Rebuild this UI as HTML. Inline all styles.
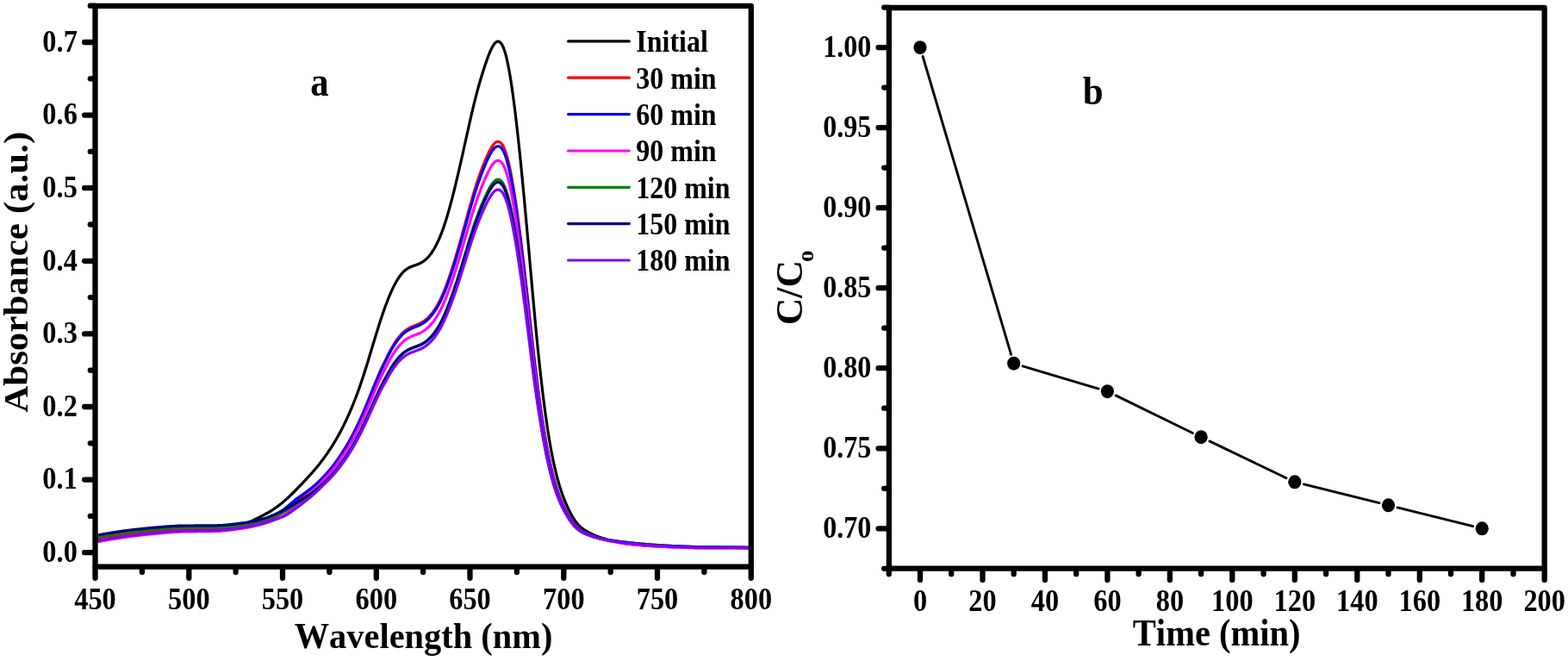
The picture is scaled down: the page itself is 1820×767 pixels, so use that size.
<!DOCTYPE html>
<html><head><meta charset="utf-8"><title>UV-vis absorbance and C/Co</title>
<style>
html,body{margin:0;padding:0;background:#fff;}
body{width:1820px;height:767px;overflow:hidden;}
svg{display:block;}
text{font-family:"Liberation Serif","Times New Roman",serif;font-weight:bold;fill:#000;font-kerning:none;}
.tk{font-size:36px;}
.ax{stroke:#000;stroke-width:6.3;stroke-linecap:round;fill:none;}
.cv{fill:none;stroke-width:3.2;stroke-linejoin:round;stroke-linecap:round;}
</style></head><body>
<svg width="1820" height="767" viewBox="0 0 1820 767">
<rect width="1820" height="767" fill="#fff"/>
<g id="figure">

<g id="curves-a">
<path class="cv" stroke="#000000" d="M110.5,625.3 L111.5,625.2 L112.5,625.1 L113.5,625.0 L114.5,624.9 L115.5,624.8 L116.5,624.6 L117.5,624.5 L118.5,624.4 L119.5,624.3 L120.5,624.1 L121.5,624.0 L122.5,623.9 L123.5,623.8 L124.5,623.6 L125.5,623.5 L126.5,623.3 L127.5,623.2 L128.5,623.1 L129.5,622.9 L130.5,622.8 L131.5,622.6 L132.5,622.5 L133.5,622.3 L134.5,622.2 L135.5,622.0 L136.5,621.8 L137.5,621.7 L138.5,621.5 L139.5,621.4 L140.5,621.2 L141.5,621.0 L142.5,620.9 L143.5,620.7 L144.5,620.6 L145.5,620.4 L146.5,620.2 L147.5,620.1 L148.5,619.9 L149.5,619.7 L150.5,619.6 L151.5,619.4 L152.5,619.3 L153.5,619.1 L154.5,618.9 L155.5,618.8 L156.5,618.6 L157.5,618.4 L158.5,618.3 L159.5,618.1 L160.5,618.0 L161.5,617.8 L162.5,617.6 L163.5,617.5 L164.5,617.3 L165.5,617.2 L166.5,617.0 L167.5,616.9 L168.5,616.7 L169.5,616.6 L170.5,616.4 L171.5,616.3 L172.5,616.1 L173.5,616.0 L174.5,615.8 L175.5,615.7 L176.5,615.6 L177.5,615.4 L178.5,615.3 L179.5,615.2 L180.5,615.0 L181.5,614.9 L182.5,614.8 L183.5,614.7 L184.5,614.6 L185.5,614.4 L186.5,614.3 L187.5,614.2 L188.5,614.1 L189.5,614.0 L190.5,613.9 L191.5,613.8 L192.5,613.7 L193.5,613.6 L194.5,613.5 L195.5,613.5 L196.5,613.4 L197.5,613.3 L198.5,613.2 L199.5,613.2 L200.5,613.1 L201.5,613.0 L202.5,613.0 L203.5,612.9 L204.5,612.9 L205.5,612.8 L206.5,612.8 L207.5,612.8 L208.5,612.7 L209.5,612.7 L210.5,612.7 L211.5,612.7 L212.5,612.6 L213.5,612.6 L214.5,612.6 L215.5,612.6 L216.5,612.6 L217.5,612.6 L218.5,612.6 L219.5,612.6 L220.5,612.6 L221.5,612.6 L222.5,612.7 L223.5,612.7 L224.5,612.7 L225.5,612.7 L226.5,612.7 L227.5,612.7 L228.5,612.7 L229.5,612.8 L230.5,612.8 L231.5,612.8 L232.5,612.8 L233.5,612.8 L234.5,612.8 L235.5,612.9 L236.5,612.9 L237.5,612.9 L238.5,612.9 L239.5,612.9 L240.5,612.9 L241.5,612.9 L242.5,613.0 L243.5,613.0 L244.5,613.0 L245.5,613.0 L246.5,613.0 L247.5,613.0 L248.5,613.0 L249.5,612.9 L250.5,612.9 L251.5,612.9 L252.5,612.9 L253.5,612.9 L254.5,612.9 L255.5,612.8 L256.5,612.8 L257.5,612.7 L258.5,612.7 L259.5,612.6 L260.5,612.6 L261.5,612.5 L262.5,612.4 L263.5,612.4 L264.5,612.3 L265.5,612.2 L266.5,612.0 L267.5,611.9 L268.5,611.8 L269.5,611.6 L270.5,611.5 L271.5,611.3 L272.5,611.1 L273.5,610.9 L274.5,610.7 L275.5,610.5 L276.5,610.2 L277.5,610.0 L278.5,609.7 L279.5,609.4 L280.5,609.1 L281.5,608.8 L282.5,608.4 L283.5,608.1 L284.5,607.7 L285.5,607.3 L286.5,607.0 L287.5,606.6 L288.5,606.1 L289.5,605.7 L290.5,605.3 L291.5,604.8 L292.5,604.4 L293.5,603.9 L294.5,603.5 L295.5,603.0 L296.5,602.5 L297.5,602.0 L298.5,601.5 L299.5,601.0 L300.5,600.5 L301.5,600.0 L302.5,599.5 L303.5,599.0 L304.5,598.5 L305.5,597.9 L306.5,597.4 L307.5,596.8 L308.5,596.3 L309.5,595.7 L310.5,595.2 L311.5,594.6 L312.5,594.0 L313.5,593.4 L314.5,592.8 L315.5,592.2 L316.5,591.5 L317.5,590.9 L318.5,590.2 L319.5,589.5 L320.5,588.8 L321.5,588.1 L322.5,587.4 L323.5,586.6 L324.5,585.9 L325.5,585.1 L326.5,584.3 L327.5,583.5 L328.5,582.6 L329.5,581.8 L330.5,580.9 L331.5,580.0 L332.5,579.1 L333.5,578.2 L334.5,577.3 L335.5,576.3 L336.5,575.4 L337.5,574.4 L338.5,573.5 L339.5,572.5 L340.5,571.5 L341.5,570.5 L342.5,569.5 L343.5,568.5 L344.5,567.5 L345.5,566.4 L346.5,565.4 L347.5,564.4 L348.5,563.3 L349.5,562.3 L350.5,561.3 L351.5,560.2 L352.5,559.2 L353.5,558.1 L354.5,557.0 L355.5,556.0 L356.5,554.9 L357.5,553.8 L358.5,552.7 L359.5,551.6 L360.5,550.5 L361.5,549.4 L362.5,548.3 L363.5,547.1 L364.5,545.9 L365.5,544.8 L366.5,543.6 L367.5,542.4 L368.5,541.2 L369.5,539.9 L370.5,538.7 L371.5,537.4 L372.5,536.1 L373.5,534.8 L374.5,533.5 L375.5,532.2 L376.5,530.8 L377.5,529.4 L378.5,528.0 L379.5,526.6 L380.5,525.2 L381.5,523.7 L382.5,522.2 L383.5,520.7 L384.5,519.1 L385.5,517.6 L386.5,515.9 L387.5,514.3 L388.5,512.7 L389.5,511.0 L390.5,509.3 L391.5,507.5 L392.5,505.7 L393.5,503.9 L394.5,502.1 L395.5,500.2 L396.5,498.3 L397.5,496.4 L398.5,494.4 L399.5,492.4 L400.5,490.3 L401.5,488.2 L402.5,486.1 L403.5,483.9 L404.5,481.7 L405.5,479.5 L406.5,477.2 L407.5,474.8 L408.5,472.4 L409.5,470.0 L410.5,467.5 L411.5,465.0 L412.5,462.5 L413.5,459.8 L414.5,457.2 L415.5,454.4 L416.5,451.7 L417.5,448.9 L418.5,446.0 L419.5,443.0 L420.5,440.1 L421.5,437.0 L422.5,433.9 L423.5,430.8 L424.5,427.6 L425.5,424.4 L426.5,421.1 L427.5,417.9 L428.5,414.6 L429.5,411.3 L430.5,408.0 L431.5,404.6 L432.5,401.3 L433.5,398.0 L434.5,394.7 L435.5,391.4 L436.5,388.1 L437.5,384.9 L438.5,381.7 L439.5,378.5 L440.5,375.3 L441.5,372.2 L442.5,369.2 L443.5,366.2 L444.5,363.2 L445.5,360.4 L446.5,357.6 L447.5,354.8 L448.5,352.2 L449.5,349.6 L450.5,347.0 L451.5,344.6 L452.5,342.2 L453.5,339.9 L454.5,337.6 L455.5,335.5 L456.5,333.4 L457.5,331.4 L458.5,329.5 L459.5,327.7 L460.5,325.9 L461.5,324.3 L462.5,322.7 L463.5,321.2 L464.5,319.8 L465.5,318.5 L466.5,317.3 L467.5,316.2 L468.5,315.2 L469.5,314.2 L470.5,313.4 L471.5,312.7 L472.5,312.0 L473.5,311.3 L474.5,310.8 L475.5,310.3 L476.5,309.8 L477.5,309.4 L478.5,309.0 L479.5,308.6 L480.5,308.2 L481.5,307.9 L482.5,307.5 L483.5,307.2 L484.5,306.8 L485.5,306.4 L486.5,306.0 L487.5,305.5 L488.5,305.0 L489.5,304.5 L490.5,303.9 L491.5,303.2 L492.5,302.5 L493.5,301.7 L494.5,300.8 L495.5,299.9 L496.5,298.9 L497.5,297.8 L498.5,296.6 L499.5,295.3 L500.5,294.0 L501.5,292.5 L502.5,291.0 L503.5,289.4 L504.5,287.7 L505.5,285.8 L506.5,283.9 L507.5,281.9 L508.5,279.8 L509.5,277.6 L510.5,275.3 L511.5,272.8 L512.5,270.3 L513.5,267.6 L514.5,264.9 L515.5,262.0 L516.5,259.0 L517.5,255.9 L518.5,252.6 L519.5,249.3 L520.5,245.9 L521.5,242.4 L522.5,238.8 L523.5,235.0 L524.5,231.3 L525.5,227.4 L526.5,223.5 L527.5,219.5 L528.5,215.4 L529.5,211.2 L530.5,207.1 L531.5,202.8 L532.5,198.5 L533.5,194.2 L534.5,189.8 L535.5,185.4 L536.5,181.0 L537.5,176.5 L538.5,172.0 L539.5,167.5 L540.5,163.0 L541.5,158.5 L542.5,154.0 L543.5,149.5 L544.5,145.0 L545.5,140.6 L546.5,136.2 L547.5,131.9 L548.5,127.6 L549.5,123.4 L550.5,119.3 L551.5,115.3 L552.5,111.4 L553.5,107.6 L554.5,103.9 L555.5,100.3 L556.5,96.8 L557.5,93.3 L558.5,90.0 L559.5,86.7 L560.5,83.5 L561.5,80.4 L562.5,77.3 L563.5,74.3 L564.5,71.4 L565.5,68.6 L566.5,65.8 L567.5,63.2 L568.5,60.8 L569.5,58.5 L570.5,56.4 L571.5,54.5 L572.5,52.8 L573.5,51.3 L574.5,50.1 L575.5,49.1 L576.5,48.5 L577.5,48.1 L578.5,48.1 L579.5,48.4 L580.5,49.1 L581.5,50.1 L582.5,51.6 L583.5,53.5 L584.5,55.7 L585.5,58.5 L586.5,61.7 L587.5,65.4 L588.5,69.6 L589.5,74.2 L590.5,79.3 L591.5,84.8 L592.5,90.8 L593.5,97.2 L594.5,103.9 L595.5,111.1 L596.5,118.6 L597.5,126.4 L598.5,134.6 L599.5,143.1 L600.5,151.9 L601.5,160.9 L602.5,170.3 L603.5,179.9 L604.5,189.8 L605.5,199.8 L606.5,210.1 L607.5,220.6 L608.5,231.3 L609.5,242.1 L610.5,253.1 L611.5,264.2 L612.5,275.4 L613.5,286.7 L614.5,298.1 L615.5,309.4 L616.5,320.7 L617.5,332.0 L618.5,343.2 L619.5,354.2 L620.5,365.1 L621.5,375.9 L622.5,386.3 L623.5,396.6 L624.5,406.6 L625.5,416.2 L626.5,425.7 L627.5,434.8 L628.5,443.6 L629.5,452.2 L630.5,460.4 L631.5,468.4 L632.5,476.1 L633.5,483.4 L634.5,490.5 L635.5,497.2 L636.5,503.6 L637.5,509.7 L638.5,515.6 L639.5,521.2 L640.5,526.5 L641.5,531.5 L642.5,536.3 L643.5,540.9 L644.5,545.2 L645.5,549.3 L646.5,553.3 L647.5,557.0 L648.5,560.5 L649.5,563.9 L650.5,567.1 L651.5,570.1 L652.5,573.0 L653.5,575.8 L654.5,578.4 L655.5,580.9 L656.5,583.3 L657.5,585.6 L658.5,587.8 L659.5,590.0 L660.5,592.0 L661.5,594.0 L662.5,595.9 L663.5,597.7 L664.5,599.5 L665.5,601.1 L666.5,602.7 L667.5,604.2 L668.5,605.5 L669.5,606.8 L670.5,608.1 L671.5,609.2 L672.5,610.2 L673.5,611.2 L674.5,612.0 L675.5,612.9 L676.5,613.6 L677.5,614.3 L678.5,615.0 L679.5,615.6 L680.5,616.2 L681.5,616.8 L682.5,617.4 L683.5,617.9 L684.5,618.4 L685.5,618.9 L686.5,619.4 L687.5,619.9 L688.5,620.4 L689.5,620.8 L690.5,621.2 L691.5,621.7 L692.5,622.1 L693.5,622.4 L694.5,622.8 L695.5,623.2 L696.5,623.5 L697.5,623.9 L698.5,624.2 L699.5,624.5 L700.5,624.8 L701.5,625.1 L702.5,625.4 L703.5,625.7 L704.5,626.0 L705.5,626.2 L706.5,626.5 L707.5,626.7 L708.5,626.9 L709.5,627.1 L710.5,627.4 L711.5,627.6 L712.5,627.8 L713.5,627.9 L714.5,628.1 L715.5,628.3 L716.5,628.5 L717.5,628.6 L718.5,628.8 L719.5,628.9 L720.5,629.1 L721.5,629.2 L722.5,629.4 L723.5,629.5 L724.5,629.6 L725.5,629.8 L726.5,629.9 L727.5,630.0 L728.5,630.1 L729.5,630.2 L730.5,630.4 L731.5,630.5 L732.5,630.6 L733.5,630.7 L734.5,630.8 L735.5,630.9 L736.5,631.0 L737.5,631.1 L738.5,631.2 L739.5,631.3 L740.5,631.4 L741.5,631.5 L742.5,631.6 L743.5,631.7 L744.5,631.8 L745.5,631.8 L746.5,631.9 L747.5,632.0 L748.5,632.1 L749.5,632.2 L750.5,632.2 L751.5,632.3 L752.5,632.4 L753.5,632.5 L754.5,632.6 L755.5,632.6 L756.5,632.7 L757.5,632.8 L758.5,632.8 L759.5,632.9 L760.5,633.0 L761.5,633.0 L762.5,633.1 L763.5,633.2 L764.5,633.2 L765.5,633.3 L766.5,633.3 L767.5,633.4 L768.5,633.4 L769.5,633.5 L770.5,633.6 L771.5,633.6 L772.5,633.7 L773.5,633.7 L774.5,633.8 L775.5,633.8 L776.5,633.9 L777.5,633.9 L778.5,634.0 L779.5,634.0 L780.5,634.1 L781.5,634.1 L782.5,634.1 L783.5,634.2 L784.5,634.2 L785.5,634.3 L786.5,634.3 L787.5,634.3 L788.5,634.4 L789.5,634.4 L790.5,634.5 L791.5,634.5 L792.5,634.5 L793.5,634.6 L794.5,634.6 L795.5,634.6 L796.5,634.7 L797.5,634.7 L798.5,634.7 L799.5,634.8 L800.5,634.8 L801.5,634.8 L802.5,634.9 L803.5,634.9 L804.5,634.9 L805.5,634.9 L806.5,635.0 L807.5,635.0 L808.5,635.0 L809.5,635.0 L810.5,635.0 L811.5,635.1 L812.5,635.1 L813.5,635.1 L814.5,635.1 L815.5,635.1 L816.5,635.2 L817.5,635.2 L818.5,635.2 L819.5,635.2 L820.5,635.2 L821.5,635.2 L822.5,635.3 L823.5,635.3 L824.5,635.3 L825.5,635.3 L826.5,635.3 L827.5,635.3 L828.5,635.3 L829.5,635.3 L830.5,635.3 L831.5,635.3 L832.5,635.4 L833.5,635.4 L834.5,635.4 L835.5,635.4 L836.5,635.4 L837.5,635.4 L838.5,635.4 L839.5,635.4 L840.5,635.4 L841.5,635.4 L842.5,635.4 L843.5,635.4 L844.5,635.4 L845.5,635.4 L846.5,635.4 L847.5,635.4 L848.5,635.4 L849.5,635.4 L850.5,635.5 L851.5,635.5 L852.5,635.5 L853.5,635.5 L854.5,635.5 L855.5,635.5 L856.5,635.5 L857.5,635.5 L858.5,635.5 L859.5,635.5 L860.5,635.5 L861.5,635.5 L862.5,635.5 L863.5,635.5 L864.5,635.6 L865.5,635.6 L866.5,635.6 L867.5,635.6 L868.5,635.6 L869.5,635.6 L870.5,635.6 L871.8,635.7"/>
<path class="cv" stroke="#ff0000" d="M110.5,625.8 L111.5,625.6 L112.5,625.4 L113.5,625.2 L114.5,625.1 L115.5,624.9 L116.5,624.7 L117.5,624.5 L118.5,624.3 L119.5,624.2 L120.5,624.0 L121.5,623.8 L122.5,623.6 L123.5,623.5 L124.5,623.3 L125.5,623.1 L126.5,623.0 L127.5,622.8 L128.5,622.6 L129.5,622.5 L130.5,622.3 L131.5,622.1 L132.5,622.0 L133.5,621.8 L134.5,621.7 L135.5,621.5 L136.5,621.3 L137.5,621.2 L138.5,621.0 L139.5,620.9 L140.5,620.7 L141.5,620.6 L142.5,620.4 L143.5,620.3 L144.5,620.2 L145.5,620.0 L146.5,619.9 L147.5,619.8 L148.5,619.6 L149.5,619.5 L150.5,619.4 L151.5,619.2 L152.5,619.1 L153.5,619.0 L154.5,618.9 L155.5,618.7 L156.5,618.6 L157.5,618.5 L158.5,618.4 L159.5,618.3 L160.5,618.2 L161.5,618.0 L162.5,617.9 L163.5,617.8 L164.5,617.7 L165.5,617.6 L166.5,617.5 L167.5,617.4 L168.5,617.3 L169.5,617.2 L170.5,617.1 L171.5,617.0 L172.5,616.9 L173.5,616.8 L174.5,616.7 L175.5,616.6 L176.5,616.5 L177.5,616.4 L178.5,616.3 L179.5,616.2 L180.5,616.1 L181.5,616.0 L182.5,615.9 L183.5,615.9 L184.5,615.8 L185.5,615.7 L186.5,615.6 L187.5,615.5 L188.5,615.4 L189.5,615.3 L190.5,615.2 L191.5,615.1 L192.5,615.1 L193.5,615.0 L194.5,614.9 L195.5,614.8 L196.5,614.8 L197.5,614.7 L198.5,614.6 L199.5,614.5 L200.5,614.5 L201.5,614.4 L202.5,614.4 L203.5,614.3 L204.5,614.3 L205.5,614.2 L206.5,614.2 L207.5,614.1 L208.5,614.1 L209.5,614.0 L210.5,614.0 L211.5,614.0 L212.5,613.9 L213.5,613.9 L214.5,613.9 L215.5,613.9 L216.5,613.9 L217.5,613.9 L218.5,613.9 L219.5,613.9 L220.5,613.8 L221.5,613.8 L222.5,613.8 L223.5,613.8 L224.5,613.8 L225.5,613.8 L226.5,613.8 L227.5,613.8 L228.5,613.8 L229.5,613.8 L230.5,613.8 L231.5,613.8 L232.5,613.8 L233.5,613.8 L234.5,613.8 L235.5,613.7 L236.5,613.7 L237.5,613.7 L238.5,613.7 L239.5,613.7 L240.5,613.7 L241.5,613.7 L242.5,613.7 L243.5,613.7 L244.5,613.7 L245.5,613.7 L246.5,613.7 L247.5,613.6 L248.5,613.6 L249.5,613.6 L250.5,613.6 L251.5,613.5 L252.5,613.5 L253.5,613.5 L254.5,613.4 L255.5,613.3 L256.5,613.3 L257.5,613.2 L258.5,613.1 L259.5,613.0 L260.5,612.9 L261.5,612.9 L262.5,612.8 L263.5,612.6 L264.5,612.5 L265.5,612.4 L266.5,612.3 L267.5,612.2 L268.5,612.1 L269.5,612.0 L270.5,611.8 L271.5,611.7 L272.5,611.6 L273.5,611.5 L274.5,611.3 L275.5,611.2 L276.5,611.1 L277.5,610.9 L278.5,610.8 L279.5,610.7 L280.5,610.5 L281.5,610.4 L282.5,610.3 L283.5,610.1 L284.5,610.0 L285.5,609.8 L286.5,609.6 L287.5,609.5 L288.5,609.3 L289.5,609.1 L290.5,608.9 L291.5,608.7 L292.5,608.5 L293.5,608.3 L294.5,608.1 L295.5,607.9 L296.5,607.7 L297.5,607.4 L298.5,607.2 L299.5,606.9 L300.5,606.7 L301.5,606.4 L302.5,606.2 L303.5,605.9 L304.5,605.6 L305.5,605.3 L306.5,605.0 L307.5,604.7 L308.5,604.3 L309.5,604.0 L310.5,603.6 L311.5,603.2 L312.5,602.8 L313.5,602.4 L314.5,602.0 L315.5,601.6 L316.5,601.1 L317.5,600.7 L318.5,600.2 L319.5,599.7 L320.5,599.1 L321.5,598.6 L322.5,598.0 L323.5,597.5 L324.5,596.9 L325.5,596.3 L326.5,595.6 L327.5,595.0 L328.5,594.3 L329.5,593.7 L330.5,592.9 L331.5,592.1 L332.5,591.3 L333.5,590.5 L334.5,589.6 L335.5,588.7 L336.5,587.8 L337.5,587.0 L338.5,586.1 L339.5,585.2 L340.5,584.4 L341.5,583.5 L342.5,582.6 L343.5,581.7 L344.5,580.9 L345.5,580.1 L346.5,579.4 L347.5,578.6 L348.5,577.8 L349.5,577.0 L350.5,576.2 L351.5,575.4 L352.5,574.6 L353.5,573.8 L354.5,573.0 L355.5,572.2 L356.5,571.3 L357.5,570.5 L358.5,569.6 L359.5,568.8 L360.5,567.9 L361.5,567.0 L362.5,566.2 L363.5,565.3 L364.5,564.4 L365.5,563.4 L366.5,562.5 L367.5,561.5 L368.5,560.5 L369.5,559.6 L370.5,558.6 L371.5,557.5 L372.5,556.5 L373.5,555.4 L374.5,554.4 L375.5,553.3 L376.5,552.2 L377.5,551.1 L378.5,550.0 L379.5,548.8 L380.5,547.7 L381.5,546.5 L382.5,545.3 L383.5,544.1 L384.5,542.9 L385.5,541.6 L386.5,540.4 L387.5,539.1 L388.5,537.8 L389.5,536.4 L390.5,535.0 L391.5,533.6 L392.5,532.2 L393.5,530.7 L394.5,529.2 L395.5,527.7 L396.5,526.2 L397.5,524.6 L398.5,523.0 L399.5,521.5 L400.5,519.9 L401.5,518.3 L402.5,516.6 L403.5,514.9 L404.5,513.2 L405.5,511.4 L406.5,509.6 L407.5,507.7 L408.5,505.9 L409.5,504.0 L410.5,502.0 L411.5,500.0 L412.5,498.0 L413.5,496.0 L414.5,493.9 L415.5,491.8 L416.5,489.7 L417.5,487.5 L418.5,485.4 L419.5,483.1 L420.5,480.9 L421.5,478.6 L422.5,476.2 L423.5,473.9 L424.5,471.5 L425.5,469.0 L426.5,466.6 L427.5,464.1 L428.5,461.6 L429.5,459.2 L430.5,456.7 L431.5,454.2 L432.5,451.7 L433.5,449.2 L434.5,446.8 L435.5,444.3 L436.5,441.9 L437.5,439.5 L438.5,437.1 L439.5,434.8 L440.5,432.5 L441.5,430.2 L442.5,428.0 L443.5,425.8 L444.5,423.7 L445.5,421.6 L446.5,419.6 L447.5,417.6 L448.5,415.6 L449.5,413.5 L450.5,411.5 L451.5,409.5 L452.5,407.6 L453.5,405.7 L454.5,403.9 L455.5,402.2 L456.5,400.5 L457.5,398.9 L458.5,397.3 L459.5,395.9 L460.5,394.4 L461.5,393.1 L462.5,391.8 L463.5,390.6 L464.5,389.4 L465.5,388.3 L466.5,387.2 L467.5,386.2 L468.5,385.3 L469.5,384.4 L470.5,383.6 L471.5,382.9 L472.5,382.2 L473.5,381.6 L474.5,381.0 L475.5,380.5 L476.5,380.0 L477.5,379.5 L478.5,379.1 L479.5,378.6 L480.5,378.2 L481.5,377.8 L482.5,377.4 L483.5,377.0 L484.5,376.6 L485.5,376.2 L486.5,375.7 L487.5,375.3 L488.5,374.8 L489.5,374.2 L490.5,373.6 L491.5,373.0 L492.5,372.3 L493.5,371.6 L494.5,370.8 L495.5,369.9 L496.5,369.0 L497.5,368.0 L498.5,366.9 L499.5,365.8 L500.5,364.6 L501.5,363.4 L502.5,362.1 L503.5,360.7 L504.5,359.2 L505.5,357.7 L506.5,356.1 L507.5,354.4 L508.5,352.6 L509.5,350.7 L510.5,348.8 L511.5,346.7 L512.5,344.6 L513.5,342.4 L514.5,340.1 L515.5,337.7 L516.5,335.2 L517.5,332.6 L518.5,329.9 L519.5,327.1 L520.5,324.3 L521.5,321.5 L522.5,318.5 L523.5,315.5 L524.5,312.5 L525.5,309.4 L526.5,306.2 L527.5,302.9 L528.5,299.7 L529.5,296.3 L530.5,292.9 L531.5,289.5 L532.5,286.0 L533.5,282.5 L534.5,279.0 L535.5,275.4 L536.5,271.8 L537.5,268.2 L538.5,264.6 L539.5,260.9 L540.5,257.3 L541.5,253.6 L542.5,250.0 L543.5,246.3 L544.5,242.7 L545.5,239.1 L546.5,235.6 L547.5,232.1 L548.5,228.6 L549.5,225.2 L550.5,221.9 L551.5,218.7 L552.5,215.5 L553.5,212.4 L554.5,209.4 L555.5,206.5 L556.5,203.6 L557.5,200.8 L558.5,198.1 L559.5,195.4 L560.5,192.8 L561.5,190.3 L562.5,187.8 L563.5,185.4 L564.5,183.1 L565.5,180.8 L566.5,178.6 L567.5,176.5 L568.5,174.5 L569.5,172.7 L570.5,171.0 L571.5,169.5 L572.5,168.1 L573.5,166.9 L574.5,165.9 L575.5,165.2 L576.5,164.6 L577.5,164.4 L578.5,164.3 L579.5,164.6 L580.5,165.1 L581.5,166.0 L582.5,167.2 L583.5,168.7 L584.5,170.5 L585.5,172.7 L586.5,175.3 L587.5,178.3 L588.5,181.6 L589.5,185.3 L590.5,189.4 L591.5,193.9 L592.5,198.7 L593.5,203.8 L594.5,209.2 L595.5,215.0 L596.5,221.0 L597.5,227.3 L598.5,233.9 L599.5,240.7 L600.5,247.8 L601.5,255.1 L602.5,262.6 L603.5,270.3 L604.5,278.2 L605.5,286.3 L606.5,294.6 L607.5,303.0 L608.5,311.6 L609.5,320.3 L610.5,329.2 L611.5,338.1 L612.5,347.1 L613.5,356.2 L614.5,365.3 L615.5,374.4 L616.5,383.6 L617.5,392.6 L618.5,401.6 L619.5,410.5 L620.5,419.1 L621.5,427.3 L622.5,435.4 L623.5,443.4 L624.5,451.1 L625.5,458.6 L626.5,466.0 L627.5,473.1 L628.5,480.1 L629.5,486.8 L630.5,493.3 L631.5,499.6 L632.5,505.6 L633.5,511.4 L634.5,517.0 L635.5,522.4 L636.5,527.5 L637.5,532.4 L638.5,537.0 L639.5,541.5 L640.5,545.7 L641.5,549.8 L642.5,553.7 L643.5,557.3 L644.5,560.8 L645.5,564.2 L646.5,567.3 L647.5,570.3 L648.5,573.2 L649.5,575.9 L650.5,578.5 L651.5,581.0 L652.5,583.3 L653.5,585.6 L654.5,587.7 L655.5,589.8 L656.5,591.8 L657.5,593.7 L658.5,595.5 L659.5,597.2 L660.5,599.0 L661.5,600.6 L662.5,602.2 L663.5,603.7 L664.5,605.1 L665.5,606.5 L666.5,607.8 L667.5,609.0 L668.5,610.1 L669.5,611.1 L670.5,612.1 L671.5,613.0 L672.5,613.8 L673.5,614.6 L674.5,615.3 L675.5,616.0 L676.5,616.6 L677.5,617.2 L678.5,617.7 L679.5,618.2 L680.5,618.7 L681.5,619.1 L682.5,619.6 L683.5,620.0 L684.5,620.4 L685.5,620.8 L686.5,621.2 L687.5,621.6 L688.5,622.0 L689.5,622.3 L690.5,622.7 L691.5,623.1 L692.5,623.4 L693.5,623.7 L694.5,624.0 L695.5,624.4 L696.5,624.7 L697.5,625.0 L698.5,625.2 L699.5,625.5 L700.5,625.8 L701.5,626.0 L702.5,626.3 L703.5,626.5 L704.5,626.8 L705.5,627.0 L706.5,627.2 L707.5,627.4 L708.5,627.6 L709.5,627.8 L710.5,628.0 L711.5,628.2 L712.5,628.4 L713.5,628.5 L714.5,628.7 L715.5,628.9 L716.5,629.1 L717.5,629.3 L718.5,629.4 L719.5,629.6 L720.5,629.8 L721.5,629.9 L722.5,630.1 L723.5,630.3 L724.5,630.4 L725.5,630.6 L726.5,630.7 L727.5,630.9 L728.5,631.0 L729.5,631.1 L730.5,631.3 L731.5,631.4 L732.5,631.5 L733.5,631.6 L734.5,631.7 L735.5,631.8 L736.5,631.9 L737.5,632.0 L738.5,632.1 L739.5,632.2 L740.5,632.3 L741.5,632.3 L742.5,632.4 L743.5,632.5 L744.5,632.6 L745.5,632.7 L746.5,632.8 L747.5,632.8 L748.5,632.9 L749.5,633.0 L750.5,633.1 L751.5,633.2 L752.5,633.2 L753.5,633.3 L754.5,633.4 L755.5,633.4 L756.5,633.5 L757.5,633.6 L758.5,633.6 L759.5,633.7 L760.5,633.8 L761.5,633.8 L762.5,633.9 L763.5,633.9 L764.5,634.0 L765.5,634.0 L766.5,634.1 L767.5,634.2 L768.5,634.2 L769.5,634.3 L770.5,634.3 L771.5,634.4 L772.5,634.4 L773.5,634.5 L774.5,634.5 L775.5,634.6 L776.5,634.6 L777.5,634.6 L778.5,634.7 L779.5,634.7 L780.5,634.8 L781.5,634.8 L782.5,634.9 L783.5,634.9 L784.5,634.9 L785.5,635.0 L786.5,635.0 L787.5,635.0 L788.5,635.1 L789.5,635.1 L790.5,635.1 L791.5,635.2 L792.5,635.2 L793.5,635.2 L794.5,635.3 L795.5,635.3 L796.5,635.3 L797.5,635.4 L798.5,635.4 L799.5,635.4 L800.5,635.4 L801.5,635.5 L802.5,635.5 L803.5,635.5 L804.5,635.5 L805.5,635.6 L806.5,635.6 L807.5,635.6 L808.5,635.6 L809.5,635.6 L810.5,635.7 L811.5,635.7 L812.5,635.7 L813.5,635.7 L814.5,635.7 L815.5,635.7 L816.5,635.7 L817.5,635.8 L818.5,635.8 L819.5,635.8 L820.5,635.8 L821.5,635.8 L822.5,635.8 L823.5,635.8 L824.5,635.8 L825.5,635.8 L826.5,635.9 L827.5,635.9 L828.5,635.9 L829.5,635.9 L830.5,635.9 L831.5,635.9 L832.5,635.9 L833.5,635.9 L834.5,635.9 L835.5,635.9 L836.5,635.9 L837.5,635.9 L838.5,635.9 L839.5,635.9 L840.5,635.9 L841.5,635.9 L842.5,635.9 L843.5,635.9 L844.5,635.9 L845.5,635.9 L846.5,635.9 L847.5,635.9 L848.5,635.9 L849.5,635.9 L850.5,635.9 L851.5,635.9 L852.5,635.9 L853.5,635.9 L854.5,635.9 L855.5,635.9 L856.5,635.9 L857.5,635.9 L858.5,635.9 L859.5,635.9 L860.5,635.9 L861.5,635.9 L862.5,636.0 L863.5,636.0 L864.5,636.0 L865.5,636.0 L866.5,636.0 L867.5,636.0 L868.5,636.0 L869.5,636.0 L870.5,636.1 L871.8,636.1"/>
<path class="cv" stroke="#0000ff" d="M110.5,622.8 L111.5,622.6 L112.5,622.4 L113.5,622.3 L114.5,622.1 L115.5,621.9 L116.5,621.7 L117.5,621.5 L118.5,621.4 L119.5,621.2 L120.5,621.0 L121.5,620.8 L122.5,620.7 L123.5,620.5 L124.5,620.3 L125.5,620.2 L126.5,620.0 L127.5,619.8 L128.5,619.7 L129.5,619.5 L130.5,619.4 L131.5,619.2 L132.5,619.0 L133.5,618.9 L134.5,618.7 L135.5,618.6 L136.5,618.4 L137.5,618.3 L138.5,618.1 L139.5,618.0 L140.5,617.8 L141.5,617.7 L142.5,617.6 L143.5,617.4 L144.5,617.3 L145.5,617.1 L146.5,617.0 L147.5,616.9 L148.5,616.7 L149.5,616.6 L150.5,616.5 L151.5,616.4 L152.5,616.2 L153.5,616.1 L154.5,616.0 L155.5,615.9 L156.5,615.8 L157.5,615.6 L158.5,615.5 L159.5,615.4 L160.5,615.3 L161.5,615.2 L162.5,615.1 L163.5,615.0 L164.5,614.9 L165.5,614.8 L166.5,614.7 L167.5,614.6 L168.5,614.5 L169.5,614.4 L170.5,614.3 L171.5,614.2 L172.5,614.1 L173.5,614.0 L174.5,613.9 L175.5,613.8 L176.5,613.7 L177.5,613.7 L178.5,613.6 L179.5,613.5 L180.5,613.4 L181.5,613.3 L182.5,613.2 L183.5,613.1 L184.5,613.0 L185.5,612.9 L186.5,612.8 L187.5,612.7 L188.5,612.7 L189.5,612.6 L190.5,612.5 L191.5,612.4 L192.5,612.3 L193.5,612.2 L194.5,612.2 L195.5,612.1 L196.5,612.0 L197.5,612.0 L198.5,611.9 L199.5,611.8 L200.5,611.8 L201.5,611.7 L202.5,611.7 L203.5,611.6 L204.5,611.6 L205.5,611.5 L206.5,611.5 L207.5,611.4 L208.5,611.4 L209.5,611.4 L210.5,611.3 L211.5,611.3 L212.5,611.3 L213.5,611.3 L214.5,611.2 L215.5,611.2 L216.5,611.2 L217.5,611.2 L218.5,611.2 L219.5,611.2 L220.5,611.2 L221.5,611.2 L222.5,611.2 L223.5,611.2 L224.5,611.2 L225.5,611.2 L226.5,611.2 L227.5,611.2 L228.5,611.2 L229.5,611.2 L230.5,611.2 L231.5,611.2 L232.5,611.2 L233.5,611.2 L234.5,611.2 L235.5,611.2 L236.5,611.1 L237.5,611.1 L238.5,611.1 L239.5,611.1 L240.5,611.1 L241.5,611.1 L242.5,611.1 L243.5,611.1 L244.5,611.1 L245.5,611.1 L246.5,611.1 L247.5,611.1 L248.5,611.1 L249.5,611.1 L250.5,611.0 L251.5,611.0 L252.5,611.0 L253.5,610.9 L254.5,610.9 L255.5,610.8 L256.5,610.8 L257.5,610.7 L258.5,610.6 L259.5,610.5 L260.5,610.5 L261.5,610.4 L262.5,610.3 L263.5,610.2 L264.5,610.1 L265.5,610.0 L266.5,609.9 L267.5,609.8 L268.5,609.6 L269.5,609.5 L270.5,609.4 L271.5,609.3 L272.5,609.2 L273.5,609.0 L274.5,608.9 L275.5,608.8 L276.5,608.7 L277.5,608.5 L278.5,608.4 L279.5,608.3 L280.5,608.2 L281.5,608.0 L282.5,607.9 L283.5,607.8 L284.5,607.6 L285.5,607.5 L286.5,607.3 L287.5,607.1 L288.5,607.0 L289.5,606.8 L290.5,606.6 L291.5,606.4 L292.5,606.2 L293.5,606.0 L294.5,605.8 L295.5,605.6 L296.5,605.4 L297.5,605.2 L298.5,604.9 L299.5,604.7 L300.5,604.4 L301.5,604.2 L302.5,603.9 L303.5,603.6 L304.5,603.3 L305.5,603.0 L306.5,602.7 L307.5,602.4 L308.5,602.0 L309.5,601.7 L310.5,601.3 L311.5,600.9 L312.5,600.5 L313.5,600.1 L314.5,599.7 L315.5,599.2 L316.5,598.7 L317.5,598.2 L318.5,597.7 L319.5,597.2 L320.5,596.6 L321.5,596.1 L322.5,595.5 L323.5,594.9 L324.5,594.3 L325.5,593.7 L326.5,593.0 L327.5,592.3 L328.5,591.7 L329.5,591.0 L330.5,590.2 L331.5,589.4 L332.5,588.6 L333.5,587.8 L334.5,586.9 L335.5,586.1 L336.5,585.2 L337.5,584.4 L338.5,583.5 L339.5,582.7 L340.5,581.9 L341.5,581.0 L342.5,580.2 L343.5,579.3 L344.5,578.6 L345.5,577.9 L346.5,577.2 L347.5,576.5 L348.5,575.8 L349.5,575.1 L350.5,574.4 L351.5,573.7 L352.5,573.0 L353.5,572.2 L354.5,571.5 L355.5,570.8 L356.5,570.0 L357.5,569.3 L358.5,568.5 L359.5,567.7 L360.5,567.0 L361.5,566.2 L362.5,565.4 L363.5,564.6 L364.5,563.8 L365.5,562.9 L366.5,562.1 L367.5,561.2 L368.5,560.3 L369.5,559.4 L370.5,558.5 L371.5,557.5 L372.5,556.6 L373.5,555.6 L374.5,554.6 L375.5,553.6 L376.5,552.6 L377.5,551.5 L378.5,550.4 L379.5,549.3 L380.5,548.1 L381.5,547.0 L382.5,545.8 L383.5,544.6 L384.5,543.4 L385.5,542.2 L386.5,540.9 L387.5,539.6 L388.5,538.3 L389.5,537.0 L390.5,535.7 L391.5,534.3 L392.5,532.9 L393.5,531.4 L394.5,530.0 L395.5,528.5 L396.5,526.9 L397.5,525.4 L398.5,523.8 L399.5,522.3 L400.5,520.7 L401.5,519.1 L402.5,517.4 L403.5,515.7 L404.5,514.0 L405.5,512.3 L406.5,510.5 L407.5,508.6 L408.5,506.8 L409.5,504.9 L410.5,503.0 L411.5,501.0 L412.5,499.0 L413.5,497.0 L414.5,494.9 L415.5,492.8 L416.5,490.7 L417.5,488.6 L418.5,486.4 L419.5,484.2 L420.5,481.9 L421.5,479.7 L422.5,477.3 L423.5,475.0 L424.5,472.6 L425.5,470.2 L426.5,467.8 L427.5,465.3 L428.5,462.9 L429.5,460.4 L430.5,457.9 L431.5,455.5 L432.5,453.0 L433.5,450.5 L434.5,448.1 L435.5,445.7 L436.5,443.2 L437.5,440.9 L438.5,438.5 L439.5,436.2 L440.5,433.9 L441.5,431.6 L442.5,429.4 L443.5,427.3 L444.5,425.2 L445.5,423.1 L446.5,421.1 L447.5,419.1 L448.5,417.1 L449.5,415.1 L450.5,413.0 L451.5,411.1 L452.5,409.2 L453.5,407.3 L454.5,405.5 L455.5,403.8 L456.5,402.1 L457.5,400.5 L458.5,399.0 L459.5,397.5 L460.5,396.1 L461.5,394.7 L462.5,393.5 L463.5,392.2 L464.5,391.1 L465.5,390.0 L466.5,388.9 L467.5,387.9 L468.5,387.0 L469.5,386.1 L470.5,385.4 L471.5,384.6 L472.5,384.0 L473.5,383.4 L474.5,382.8 L475.5,382.3 L476.5,381.8 L477.5,381.3 L478.5,380.8 L479.5,380.4 L480.5,380.0 L481.5,379.6 L482.5,379.2 L483.5,378.8 L484.5,378.4 L485.5,378.0 L486.5,377.5 L487.5,377.0 L488.5,376.6 L489.5,376.0 L490.5,375.4 L491.5,374.8 L492.5,374.1 L493.5,373.4 L494.5,372.6 L495.5,371.7 L496.5,370.8 L497.5,369.8 L498.5,368.8 L499.5,367.7 L500.5,366.5 L501.5,365.3 L502.5,364.0 L503.5,362.6 L504.5,361.2 L505.5,359.7 L506.5,358.1 L507.5,356.5 L508.5,354.7 L509.5,352.9 L510.5,351.0 L511.5,349.0 L512.5,346.9 L513.5,344.7 L514.5,342.4 L515.5,340.1 L516.5,337.6 L517.5,335.1 L518.5,332.4 L519.5,329.7 L520.5,326.9 L521.5,324.1 L522.5,321.3 L523.5,318.3 L524.5,315.3 L525.5,312.2 L526.5,309.1 L527.5,305.9 L528.5,302.7 L529.5,299.4 L530.5,296.1 L531.5,292.7 L532.5,289.3 L533.5,285.8 L534.5,282.4 L535.5,278.8 L536.5,275.3 L537.5,271.8 L538.5,268.2 L539.5,264.6 L540.5,261.0 L541.5,257.4 L542.5,253.8 L543.5,250.3 L544.5,246.7 L545.5,243.2 L546.5,239.7 L547.5,236.3 L548.5,232.9 L549.5,229.6 L550.5,226.3 L551.5,223.1 L552.5,220.0 L553.5,217.0 L554.5,214.1 L555.5,211.2 L556.5,208.4 L557.5,205.6 L558.5,203.0 L559.5,200.4 L560.5,197.8 L561.5,195.3 L562.5,192.9 L563.5,190.5 L564.5,188.2 L565.5,185.9 L566.5,183.8 L567.5,181.7 L568.5,179.8 L569.5,177.9 L570.5,176.3 L571.5,174.7 L572.5,173.4 L573.5,172.2 L574.5,171.3 L575.5,170.5 L576.5,170.0 L577.5,169.7 L578.5,169.7 L579.5,169.9 L580.5,170.5 L581.5,171.3 L582.5,172.5 L583.5,173.9 L584.5,175.8 L585.5,177.9 L586.5,180.5 L587.5,183.4 L588.5,186.8 L589.5,190.4 L590.5,194.5 L591.5,198.9 L592.5,203.6 L593.5,208.7 L594.5,214.1 L595.5,219.7 L596.5,225.7 L597.5,231.9 L598.5,238.4 L599.5,245.2 L600.5,252.2 L601.5,259.4 L602.5,266.8 L603.5,274.5 L604.5,282.3 L605.5,290.3 L606.5,298.5 L607.5,306.8 L608.5,315.3 L609.5,323.9 L610.5,332.6 L611.5,341.5 L612.5,350.4 L613.5,359.4 L614.5,368.4 L615.5,377.4 L616.5,386.4 L617.5,395.4 L618.5,404.3 L619.5,413.1 L620.5,421.5 L621.5,429.7 L622.5,437.7 L623.5,445.5 L624.5,453.1 L625.5,460.6 L626.5,467.8 L627.5,474.9 L628.5,481.7 L629.5,488.4 L630.5,494.8 L631.5,501.0 L632.5,507.0 L633.5,512.7 L634.5,518.2 L635.5,523.5 L636.5,528.6 L637.5,533.4 L638.5,538.0 L639.5,542.4 L640.5,546.6 L641.5,550.6 L642.5,554.5 L643.5,558.1 L644.5,561.5 L645.5,564.8 L646.5,568.0 L647.5,571.0 L648.5,573.8 L649.5,576.5 L650.5,579.0 L651.5,581.5 L652.5,583.8 L653.5,586.0 L654.5,588.2 L655.5,590.2 L656.5,592.2 L657.5,594.0 L658.5,595.8 L659.5,597.6 L660.5,599.3 L661.5,600.9 L662.5,602.5 L663.5,603.9 L664.5,605.4 L665.5,606.7 L666.5,608.0 L667.5,609.2 L668.5,610.3 L669.5,611.3 L670.5,612.3 L671.5,613.2 L672.5,614.0 L673.5,614.8 L674.5,615.5 L675.5,616.1 L676.5,616.7 L677.5,617.3 L678.5,617.8 L679.5,618.3 L680.5,618.8 L681.5,619.2 L682.5,619.7 L683.5,620.1 L684.5,620.5 L685.5,620.9 L686.5,621.3 L687.5,621.7 L688.5,622.1 L689.5,622.4 L690.5,622.7 L691.5,623.1 L692.5,623.4 L693.5,623.6 L694.5,623.9 L695.5,624.2 L696.5,624.4 L697.5,624.7 L698.5,624.9 L699.5,625.2 L700.5,625.4 L701.5,625.6 L702.5,625.8 L703.5,626.0 L704.5,626.2 L705.5,626.4 L706.5,626.5 L707.5,626.7 L708.5,626.9 L709.5,627.0 L710.5,627.2 L711.5,627.3 L712.5,627.4 L713.5,627.6 L714.5,627.7 L715.5,627.8 L716.5,628.0 L717.5,628.1 L718.5,628.3 L719.5,628.4 L720.5,628.5 L721.5,628.6 L722.5,628.8 L723.5,628.9 L724.5,629.0 L725.5,629.1 L726.5,629.2 L727.5,629.3 L728.5,629.4 L729.5,629.5 L730.5,629.6 L731.5,629.7 L732.5,629.8 L733.5,629.9 L734.5,630.1 L735.5,630.2 L736.5,630.3 L737.5,630.4 L738.5,630.5 L739.5,630.6 L740.5,630.7 L741.5,630.8 L742.5,630.9 L743.5,631.0 L744.5,631.0 L745.5,631.1 L746.5,631.2 L747.5,631.3 L748.5,631.4 L749.5,631.5 L750.5,631.6 L751.5,631.6 L752.5,631.7 L753.5,631.8 L754.5,631.9 L755.5,632.0 L756.5,632.0 L757.5,632.1 L758.5,632.2 L759.5,632.2 L760.5,632.3 L761.5,632.4 L762.5,632.4 L763.5,632.5 L764.5,632.6 L765.5,632.6 L766.5,632.7 L767.5,632.8 L768.5,632.8 L769.5,632.9 L770.5,632.9 L771.5,633.0 L772.5,633.0 L773.5,633.1 L774.5,633.1 L775.5,633.2 L776.5,633.3 L777.5,633.3 L778.5,633.4 L779.5,633.4 L780.5,633.5 L781.5,633.5 L782.5,633.5 L783.5,633.6 L784.5,633.6 L785.5,633.7 L786.5,633.7 L787.5,633.8 L788.5,633.8 L789.5,633.9 L790.5,633.9 L791.5,633.9 L792.5,634.0 L793.5,634.0 L794.5,634.0 L795.5,634.1 L796.5,634.1 L797.5,634.2 L798.5,634.2 L799.5,634.2 L800.5,634.3 L801.5,634.3 L802.5,634.3 L803.5,634.4 L804.5,634.4 L805.5,634.4 L806.5,634.4 L807.5,634.5 L808.5,634.5 L809.5,634.5 L810.5,634.5 L811.5,634.6 L812.5,634.6 L813.5,634.6 L814.5,634.6 L815.5,634.7 L816.5,634.7 L817.5,634.7 L818.5,634.7 L819.5,634.7 L820.5,634.8 L821.5,634.8 L822.5,634.8 L823.5,634.8 L824.5,634.8 L825.5,634.8 L826.5,634.8 L827.5,634.9 L828.5,634.9 L829.5,634.9 L830.5,634.9 L831.5,634.9 L832.5,634.9 L833.5,634.9 L834.5,634.9 L835.5,635.0 L836.5,635.0 L837.5,635.0 L838.5,635.0 L839.5,635.0 L840.5,635.0 L841.5,635.0 L842.5,635.0 L843.5,635.0 L844.5,635.0 L845.5,635.0 L846.5,635.0 L847.5,635.0 L848.5,635.1 L849.5,635.1 L850.5,635.1 L851.5,635.1 L852.5,635.1 L853.5,635.1 L854.5,635.1 L855.5,635.1 L856.5,635.1 L857.5,635.1 L858.5,635.1 L859.5,635.2 L860.5,635.2 L861.5,635.2 L862.5,635.2 L863.5,635.2 L864.5,635.2 L865.5,635.2 L866.5,635.2 L867.5,635.2 L868.5,635.3 L869.5,635.3 L870.5,635.3 L871.8,635.3"/>
<path class="cv" stroke="#ff00ff" d="M110.5,629.2 L111.5,629.0 L112.5,628.8 L113.5,628.6 L114.5,628.4 L115.5,628.3 L116.5,628.1 L117.5,627.9 L118.5,627.7 L119.5,627.5 L120.5,627.3 L121.5,627.2 L122.5,627.0 L123.5,626.8 L124.5,626.6 L125.5,626.5 L126.5,626.3 L127.5,626.1 L128.5,626.0 L129.5,625.8 L130.5,625.6 L131.5,625.5 L132.5,625.3 L133.5,625.1 L134.5,625.0 L135.5,624.8 L136.5,624.6 L137.5,624.5 L138.5,624.3 L139.5,624.2 L140.5,624.0 L141.5,623.9 L142.5,623.7 L143.5,623.6 L144.5,623.4 L145.5,623.3 L146.5,623.2 L147.5,623.0 L148.5,622.9 L149.5,622.7 L150.5,622.6 L151.5,622.5 L152.5,622.3 L153.5,622.2 L154.5,622.1 L155.5,622.0 L156.5,621.8 L157.5,621.7 L158.5,621.6 L159.5,621.5 L160.5,621.4 L161.5,621.3 L162.5,621.1 L163.5,621.0 L164.5,620.9 L165.5,620.8 L166.5,620.7 L167.5,620.6 L168.5,620.5 L169.5,620.4 L170.5,620.3 L171.5,620.2 L172.5,620.1 L173.5,620.0 L174.5,619.9 L175.5,619.8 L176.5,619.7 L177.5,619.6 L178.5,619.5 L179.5,619.4 L180.5,619.3 L181.5,619.2 L182.5,619.1 L183.5,619.0 L184.5,618.9 L185.5,618.8 L186.5,618.7 L187.5,618.6 L188.5,618.5 L189.5,618.4 L190.5,618.3 L191.5,618.2 L192.5,618.2 L193.5,618.1 L194.5,618.0 L195.5,617.9 L196.5,617.8 L197.5,617.8 L198.5,617.7 L199.5,617.6 L200.5,617.6 L201.5,617.5 L202.5,617.4 L203.5,617.4 L204.5,617.3 L205.5,617.3 L206.5,617.2 L207.5,617.2 L208.5,617.1 L209.5,617.1 L210.5,617.0 L211.5,617.0 L212.5,617.0 L213.5,617.0 L214.5,616.9 L215.5,616.9 L216.5,616.9 L217.5,616.9 L218.5,616.9 L219.5,616.9 L220.5,616.8 L221.5,616.8 L222.5,616.8 L223.5,616.8 L224.5,616.8 L225.5,616.8 L226.5,616.8 L227.5,616.8 L228.5,616.8 L229.5,616.7 L230.5,616.7 L231.5,616.7 L232.5,616.7 L233.5,616.7 L234.5,616.7 L235.5,616.7 L236.5,616.7 L237.5,616.7 L238.5,616.7 L239.5,616.6 L240.5,616.6 L241.5,616.6 L242.5,616.6 L243.5,616.6 L244.5,616.6 L245.5,616.6 L246.5,616.6 L247.5,616.5 L248.5,616.5 L249.5,616.5 L250.5,616.5 L251.5,616.4 L252.5,616.4 L253.5,616.3 L254.5,616.3 L255.5,616.2 L256.5,616.1 L257.5,616.0 L258.5,616.0 L259.5,615.9 L260.5,615.8 L261.5,615.7 L262.5,615.6 L263.5,615.4 L264.5,615.3 L265.5,615.2 L266.5,615.1 L267.5,615.0 L268.5,614.8 L269.5,614.7 L270.5,614.6 L271.5,614.5 L272.5,614.3 L273.5,614.2 L274.5,614.0 L275.5,613.9 L276.5,613.8 L277.5,613.6 L278.5,613.5 L279.5,613.3 L280.5,613.2 L281.5,613.1 L282.5,612.9 L283.5,612.8 L284.5,612.6 L285.5,612.4 L286.5,612.3 L287.5,612.1 L288.5,611.9 L289.5,611.7 L290.5,611.5 L291.5,611.3 L292.5,611.1 L293.5,610.9 L294.5,610.7 L295.5,610.5 L296.5,610.2 L297.5,610.0 L298.5,609.8 L299.5,609.5 L300.5,609.2 L301.5,609.0 L302.5,608.7 L303.5,608.4 L304.5,608.1 L305.5,607.8 L306.5,607.5 L307.5,607.2 L308.5,606.9 L309.5,606.6 L310.5,606.3 L311.5,605.9 L312.5,605.6 L313.5,605.2 L314.5,604.9 L315.5,604.5 L316.5,604.1 L317.5,603.7 L318.5,603.3 L319.5,602.9 L320.5,602.5 L321.5,602.1 L322.5,601.6 L323.5,601.2 L324.5,600.7 L325.5,600.2 L326.5,599.7 L327.5,599.2 L328.5,598.7 L329.5,598.2 L330.5,597.5 L331.5,596.8 L332.5,596.1 L333.5,595.3 L334.5,594.5 L335.5,593.7 L336.5,592.8 L337.5,592.0 L338.5,591.1 L339.5,590.3 L340.5,589.4 L341.5,588.6 L342.5,587.7 L343.5,586.8 L344.5,586.0 L345.5,585.2 L346.5,584.4 L347.5,583.5 L348.5,582.7 L349.5,581.9 L350.5,581.0 L351.5,580.2 L352.5,579.3 L353.5,578.5 L354.5,577.6 L355.5,576.8 L356.5,575.9 L357.5,575.0 L358.5,574.1 L359.5,573.2 L360.5,572.3 L361.5,571.4 L362.5,570.5 L363.5,569.5 L364.5,568.6 L365.5,567.6 L366.5,566.6 L367.5,565.6 L368.5,564.6 L369.5,563.5 L370.5,562.5 L371.5,561.4 L372.5,560.3 L373.5,559.2 L374.5,558.1 L375.5,557.0 L376.5,556.0 L377.5,554.9 L378.5,553.8 L379.5,552.7 L380.5,551.6 L381.5,550.5 L382.5,549.4 L383.5,548.2 L384.5,547.0 L385.5,545.8 L386.5,544.6 L387.5,543.3 L388.5,542.1 L389.5,540.8 L390.5,539.4 L391.5,538.1 L392.5,536.7 L393.5,535.3 L394.5,533.9 L395.5,532.4 L396.5,530.9 L397.5,529.4 L398.5,527.9 L399.5,526.5 L400.5,525.0 L401.5,523.4 L402.5,521.8 L403.5,520.2 L404.5,518.5 L405.5,516.8 L406.5,515.1 L407.5,513.3 L408.5,511.5 L409.5,509.7 L410.5,507.8 L411.5,505.9 L412.5,504.0 L413.5,502.0 L414.5,500.0 L415.5,498.0 L416.5,496.0 L417.5,493.9 L418.5,491.9 L419.5,489.7 L420.5,487.6 L421.5,485.3 L422.5,483.1 L423.5,480.8 L424.5,478.5 L425.5,476.2 L426.5,473.9 L427.5,471.5 L428.5,469.1 L429.5,466.8 L430.5,464.4 L431.5,462.0 L432.5,459.6 L433.5,457.2 L434.5,454.9 L435.5,452.5 L436.5,450.2 L437.5,447.9 L438.5,445.6 L439.5,443.4 L440.5,441.2 L441.5,439.0 L442.5,436.9 L443.5,434.8 L444.5,432.8 L445.5,430.8 L446.5,428.8 L447.5,427.0 L448.5,425.0 L449.5,423.0 L450.5,421.1 L451.5,419.2 L452.5,417.3 L453.5,415.6 L454.5,413.8 L455.5,412.2 L456.5,410.6 L457.5,409.0 L458.5,407.5 L459.5,406.1 L460.5,404.7 L461.5,403.4 L462.5,402.2 L463.5,401.0 L464.5,399.9 L465.5,398.8 L466.5,397.8 L467.5,396.8 L468.5,396.0 L469.5,395.1 L470.5,394.4 L471.5,393.7 L472.5,393.0 L473.5,392.4 L474.5,391.9 L475.5,391.4 L476.5,390.9 L477.5,390.4 L478.5,390.0 L479.5,389.6 L480.5,389.2 L481.5,388.8 L482.5,388.4 L483.5,388.0 L484.5,387.6 L485.5,387.2 L486.5,386.8 L487.5,386.4 L488.5,385.9 L489.5,385.4 L490.5,384.8 L491.5,384.2 L492.5,383.5 L493.5,382.8 L494.5,382.0 L495.5,381.2 L496.5,380.3 L497.5,379.4 L498.5,378.4 L499.5,377.3 L500.5,376.2 L501.5,375.0 L502.5,373.8 L503.5,372.5 L504.5,371.1 L505.5,369.6 L506.5,368.1 L507.5,366.5 L508.5,364.8 L509.5,363.0 L510.5,361.2 L511.5,359.3 L512.5,357.3 L513.5,355.1 L514.5,353.0 L515.5,350.7 L516.5,348.3 L517.5,345.8 L518.5,343.3 L519.5,340.7 L520.5,338.0 L521.5,335.3 L522.5,332.5 L523.5,329.7 L524.5,326.8 L525.5,323.8 L526.5,320.8 L527.5,317.7 L528.5,314.6 L529.5,311.4 L530.5,308.2 L531.5,305.0 L532.5,301.7 L533.5,298.3 L534.5,295.0 L535.5,291.6 L536.5,288.2 L537.5,284.8 L538.5,281.3 L539.5,277.9 L540.5,274.4 L541.5,271.0 L542.5,267.5 L543.5,264.0 L544.5,260.6 L545.5,257.2 L546.5,253.9 L547.5,250.5 L548.5,247.3 L549.5,244.1 L550.5,240.9 L551.5,237.9 L552.5,234.9 L553.5,231.9 L554.5,229.1 L555.5,226.3 L556.5,223.6 L557.5,221.0 L558.5,218.4 L559.5,215.9 L560.5,213.4 L561.5,211.0 L562.5,208.7 L563.5,206.4 L564.5,204.2 L565.5,202.0 L566.5,199.9 L567.5,197.9 L568.5,196.0 L569.5,194.3 L570.5,192.6 L571.5,191.2 L572.5,189.9 L573.5,188.7 L574.5,187.8 L575.5,187.1 L576.5,186.6 L577.5,186.3 L578.5,186.3 L579.5,186.5 L580.5,187.1 L581.5,187.9 L582.5,189.0 L583.5,190.4 L584.5,192.2 L585.5,194.3 L586.5,196.7 L587.5,199.6 L588.5,202.8 L589.5,206.3 L590.5,210.2 L591.5,214.5 L592.5,219.0 L593.5,223.9 L594.5,229.1 L595.5,234.6 L596.5,240.3 L597.5,246.3 L598.5,252.6 L599.5,259.1 L600.5,265.9 L601.5,272.8 L602.5,280.0 L603.5,287.4 L604.5,294.9 L605.5,302.7 L606.5,310.6 L607.5,318.6 L608.5,326.8 L609.5,335.1 L610.5,343.5 L611.5,352.0 L612.5,360.7 L613.5,369.3 L614.5,378.0 L615.5,386.7 L616.5,395.4 L617.5,404.1 L618.5,412.6 L619.5,421.1 L620.5,429.2 L621.5,437.0 L622.5,444.7 L623.5,452.2 L624.5,459.5 L625.5,466.7 L626.5,473.6 L627.5,480.4 L628.5,486.9 L629.5,493.3 L630.5,499.5 L631.5,505.4 L632.5,511.2 L633.5,516.7 L634.5,522.0 L635.5,527.1 L636.5,532.0 L637.5,536.6 L638.5,541.1 L639.5,545.3 L640.5,549.4 L641.5,553.2 L642.5,556.9 L643.5,560.4 L644.5,563.8 L645.5,567.0 L646.5,570.0 L647.5,572.9 L648.5,575.6 L649.5,578.2 L650.5,580.7 L651.5,583.0 L652.5,585.3 L653.5,587.5 L654.5,589.5 L655.5,591.5 L656.5,593.4 L657.5,595.2 L658.5,596.9 L659.5,598.6 L660.5,600.3 L661.5,601.8 L662.5,603.3 L663.5,604.8 L664.5,606.2 L665.5,607.5 L666.5,608.7 L667.5,609.9 L668.5,610.9 L669.5,611.9 L670.5,612.9 L671.5,613.7 L672.5,614.5 L673.5,615.3 L674.5,615.9 L675.5,616.6 L676.5,617.2 L677.5,617.7 L678.5,618.2 L679.5,618.7 L680.5,619.1 L681.5,619.6 L682.5,620.0 L683.5,620.4 L684.5,620.8 L685.5,621.2 L686.5,621.6 L687.5,621.9 L688.5,622.3 L689.5,622.6 L690.5,623.0 L691.5,623.3 L692.5,623.7 L693.5,624.0 L694.5,624.3 L695.5,624.6 L696.5,624.9 L697.5,625.2 L698.5,625.4 L699.5,625.7 L700.5,626.0 L701.5,626.2 L702.5,626.5 L703.5,626.7 L704.5,626.9 L705.5,627.2 L706.5,627.4 L707.5,627.6 L708.5,627.8 L709.5,628.0 L710.5,628.1 L711.5,628.3 L712.5,628.5 L713.5,628.7 L714.5,628.8 L715.5,629.0 L716.5,629.2 L717.5,629.4 L718.5,629.6 L719.5,629.8 L720.5,629.9 L721.5,630.1 L722.5,630.3 L723.5,630.4 L724.5,630.6 L725.5,630.8 L726.5,630.9 L727.5,631.1 L728.5,631.2 L729.5,631.4 L730.5,631.5 L731.5,631.6 L732.5,631.7 L733.5,631.8 L734.5,631.9 L735.5,632.0 L736.5,632.1 L737.5,632.2 L738.5,632.3 L739.5,632.4 L740.5,632.5 L741.5,632.6 L742.5,632.6 L743.5,632.7 L744.5,632.8 L745.5,632.9 L746.5,633.0 L747.5,633.1 L748.5,633.1 L749.5,633.2 L750.5,633.3 L751.5,633.4 L752.5,633.4 L753.5,633.5 L754.5,633.6 L755.5,633.6 L756.5,633.7 L757.5,633.8 L758.5,633.8 L759.5,633.9 L760.5,634.0 L761.5,634.0 L762.5,634.1 L763.5,634.1 L764.5,634.2 L765.5,634.2 L766.5,634.3 L767.5,634.3 L768.5,634.4 L769.5,634.5 L770.5,634.5 L771.5,634.5 L772.5,634.6 L773.5,634.6 L774.5,634.7 L775.5,634.7 L776.5,634.8 L777.5,634.8 L778.5,634.9 L779.5,634.9 L780.5,634.9 L781.5,635.0 L782.5,635.0 L783.5,635.1 L784.5,635.1 L785.5,635.1 L786.5,635.2 L787.5,635.2 L788.5,635.2 L789.5,635.3 L790.5,635.3 L791.5,635.3 L792.5,635.4 L793.5,635.4 L794.5,635.4 L795.5,635.5 L796.5,635.5 L797.5,635.5 L798.5,635.5 L799.5,635.6 L800.5,635.6 L801.5,635.6 L802.5,635.6 L803.5,635.7 L804.5,635.7 L805.5,635.7 L806.5,635.7 L807.5,635.8 L808.5,635.8 L809.5,635.8 L810.5,635.8 L811.5,635.8 L812.5,635.8 L813.5,635.9 L814.5,635.9 L815.5,635.9 L816.5,635.9 L817.5,635.9 L818.5,635.9 L819.5,635.9 L820.5,635.9 L821.5,635.9 L822.5,636.0 L823.5,636.0 L824.5,636.0 L825.5,636.0 L826.5,636.0 L827.5,636.0 L828.5,636.0 L829.5,636.0 L830.5,636.0 L831.5,636.0 L832.5,636.0 L833.5,636.0 L834.5,636.0 L835.5,636.0 L836.5,636.0 L837.5,636.0 L838.5,636.0 L839.5,636.0 L840.5,636.0 L841.5,636.0 L842.5,636.0 L843.5,636.0 L844.5,636.0 L845.5,636.0 L846.5,636.0 L847.5,636.0 L848.5,636.0 L849.5,636.0 L850.5,636.0 L851.5,636.0 L852.5,636.0 L853.5,636.0 L854.5,636.0 L855.5,636.0 L856.5,636.0 L857.5,636.0 L858.5,636.0 L859.5,636.0 L860.5,636.0 L861.5,636.1 L862.5,636.1 L863.5,636.1 L864.5,636.1 L865.5,636.1 L866.5,636.1 L867.5,636.1 L868.5,636.1 L869.5,636.1 L870.5,636.2 L871.8,636.2"/>
<path class="cv" stroke="#008000" d="M110.5,623.8 L111.5,623.6 L112.5,623.4 L113.5,623.3 L114.5,623.1 L115.5,622.9 L116.5,622.7 L117.5,622.5 L118.5,622.4 L119.5,622.2 L120.5,622.0 L121.5,621.8 L122.5,621.7 L123.5,621.5 L124.5,621.3 L125.5,621.2 L126.5,621.0 L127.5,620.8 L128.5,620.7 L129.5,620.5 L130.5,620.3 L131.5,620.2 L132.5,620.0 L133.5,619.9 L134.5,619.7 L135.5,619.6 L136.5,619.4 L137.5,619.2 L138.5,619.1 L139.5,619.0 L140.5,618.8 L141.5,618.7 L142.5,618.5 L143.5,618.4 L144.5,618.2 L145.5,618.1 L146.5,618.0 L147.5,617.8 L148.5,617.7 L149.5,617.6 L150.5,617.4 L151.5,617.3 L152.5,617.2 L153.5,617.1 L154.5,616.9 L155.5,616.8 L156.5,616.7 L157.5,616.6 L158.5,616.5 L159.5,616.4 L160.5,616.3 L161.5,616.2 L162.5,616.1 L163.5,615.9 L164.5,615.8 L165.5,615.8 L166.5,615.7 L167.5,615.6 L168.5,615.5 L169.5,615.4 L170.5,615.3 L171.5,615.2 L172.5,615.1 L173.5,615.0 L174.5,614.9 L175.5,614.8 L176.5,614.7 L177.5,614.6 L178.5,614.5 L179.5,614.4 L180.5,614.3 L181.5,614.2 L182.5,614.1 L183.5,614.0 L184.5,613.9 L185.5,613.8 L186.5,613.7 L187.5,613.7 L188.5,613.6 L189.5,613.5 L190.5,613.4 L191.5,613.3 L192.5,613.2 L193.5,613.2 L194.5,613.1 L195.5,613.0 L196.5,612.9 L197.5,612.9 L198.5,612.8 L199.5,612.7 L200.5,612.7 L201.5,612.6 L202.5,612.6 L203.5,612.5 L204.5,612.5 L205.5,612.4 L206.5,612.4 L207.5,612.3 L208.5,612.3 L209.5,612.3 L210.5,612.2 L211.5,612.2 L212.5,612.2 L213.5,612.1 L214.5,612.1 L215.5,612.1 L216.5,612.1 L217.5,612.1 L218.5,612.1 L219.5,612.1 L220.5,612.1 L221.5,612.1 L222.5,612.1 L223.5,612.1 L224.5,612.1 L225.5,612.1 L226.5,612.0 L227.5,612.0 L228.5,612.0 L229.5,612.0 L230.5,612.0 L231.5,612.0 L232.5,612.0 L233.5,612.0 L234.5,612.0 L235.5,612.0 L236.5,612.0 L237.5,612.0 L238.5,612.0 L239.5,612.0 L240.5,612.0 L241.5,612.0 L242.5,612.0 L243.5,612.0 L244.5,612.0 L245.5,612.0 L246.5,611.9 L247.5,611.9 L248.5,611.9 L249.5,611.9 L250.5,611.9 L251.5,611.9 L252.5,611.8 L253.5,611.8 L254.5,611.7 L255.5,611.7 L256.5,611.6 L257.5,611.5 L258.5,611.5 L259.5,611.4 L260.5,611.3 L261.5,611.2 L262.5,611.1 L263.5,611.0 L264.5,610.9 L265.5,610.8 L266.5,610.7 L267.5,610.6 L268.5,610.5 L269.5,610.3 L270.5,610.2 L271.5,610.1 L272.5,610.0 L273.5,609.8 L274.5,609.7 L275.5,609.6 L276.5,609.5 L277.5,609.3 L278.5,609.2 L279.5,609.1 L280.5,608.9 L281.5,608.8 L282.5,608.7 L283.5,608.5 L284.5,608.4 L285.5,608.2 L286.5,608.1 L287.5,607.9 L288.5,607.7 L289.5,607.6 L290.5,607.4 L291.5,607.2 L292.5,607.0 L293.5,606.8 L294.5,606.6 L295.5,606.4 L296.5,606.1 L297.5,605.9 L298.5,605.7 L299.5,605.4 L300.5,605.2 L301.5,604.9 L302.5,604.7 L303.5,604.4 L304.5,604.1 L305.5,603.8 L306.5,603.5 L307.5,603.2 L308.5,602.8 L309.5,602.5 L310.5,602.2 L311.5,601.8 L312.5,601.4 L313.5,601.1 L314.5,600.7 L315.5,600.3 L316.5,599.9 L317.5,599.5 L318.5,599.1 L319.5,598.7 L320.5,598.3 L321.5,597.8 L322.5,597.4 L323.5,596.9 L324.5,596.5 L325.5,596.0 L326.5,595.5 L327.5,595.0 L328.5,594.5 L329.5,594.0 L330.5,593.5 L331.5,592.9 L332.5,592.2 L333.5,591.6 L334.5,591.0 L335.5,590.3 L336.5,589.6 L337.5,588.9 L338.5,588.2 L339.5,587.6 L340.5,586.9 L341.5,586.1 L342.5,585.4 L343.5,584.7 L344.5,584.0 L345.5,583.4 L346.5,582.8 L347.5,582.1 L348.5,581.5 L349.5,580.8 L350.5,580.2 L351.5,579.5 L352.5,578.8 L353.5,578.2 L354.5,577.5 L355.5,576.8 L356.5,576.1 L357.5,575.4 L358.5,574.7 L359.5,574.0 L360.5,573.3 L361.5,572.6 L362.5,571.8 L363.5,571.1 L364.5,570.3 L365.5,569.5 L366.5,568.7 L367.5,567.9 L368.5,567.1 L369.5,566.3 L370.5,565.4 L371.5,564.5 L372.5,563.7 L373.5,562.8 L374.5,561.9 L375.5,560.9 L376.5,560.0 L377.5,559.0 L378.5,558.0 L379.5,557.0 L380.5,556.0 L381.5,554.9 L382.5,553.9 L383.5,552.8 L384.5,551.7 L385.5,550.6 L386.5,549.5 L387.5,548.3 L388.5,547.1 L389.5,545.9 L390.5,544.7 L391.5,543.5 L392.5,542.2 L393.5,540.9 L394.5,539.5 L395.5,538.2 L396.5,536.8 L397.5,535.4 L398.5,534.0 L399.5,532.7 L400.5,531.2 L401.5,529.8 L402.5,528.2 L403.5,526.7 L404.5,525.1 L405.5,523.5 L406.5,521.9 L407.5,520.2 L408.5,518.5 L409.5,516.8 L410.5,515.0 L411.5,513.2 L412.5,511.4 L413.5,509.5 L414.5,507.6 L415.5,505.7 L416.5,503.8 L417.5,501.9 L418.5,499.9 L419.5,497.9 L420.5,495.8 L421.5,493.8 L422.5,491.6 L423.5,489.5 L424.5,487.3 L425.5,485.1 L426.5,482.9 L427.5,480.7 L428.5,478.4 L429.5,476.2 L430.5,473.9 L431.5,471.7 L432.5,469.4 L433.5,467.2 L434.5,464.9 L435.5,462.7 L436.5,460.5 L437.5,458.3 L438.5,456.2 L439.5,454.1 L440.5,452.0 L441.5,449.9 L442.5,447.9 L443.5,445.9 L444.5,444.0 L445.5,442.1 L446.5,440.3 L447.5,438.5 L448.5,436.7 L449.5,434.8 L450.5,433.0 L451.5,431.2 L452.5,429.4 L453.5,427.7 L454.5,426.1 L455.5,424.5 L456.5,423.0 L457.5,421.5 L458.5,420.1 L459.5,418.8 L460.5,417.5 L461.5,416.2 L462.5,415.1 L463.5,414.0 L464.5,412.9 L465.5,411.9 L466.5,410.9 L467.5,410.0 L468.5,409.2 L469.5,408.4 L470.5,407.7 L471.5,407.0 L472.5,406.4 L473.5,405.9 L474.5,405.3 L475.5,404.9 L476.5,404.4 L477.5,404.0 L478.5,403.6 L479.5,403.2 L480.5,402.8 L481.5,402.4 L482.5,402.0 L483.5,401.7 L484.5,401.3 L485.5,400.9 L486.5,400.5 L487.5,400.1 L488.5,399.6 L489.5,399.2 L490.5,398.6 L491.5,398.1 L492.5,397.4 L493.5,396.8 L494.5,396.0 L495.5,395.2 L496.5,394.4 L497.5,393.5 L498.5,392.5 L499.5,391.5 L500.5,390.5 L501.5,389.3 L502.5,388.1 L503.5,386.9 L504.5,385.5 L505.5,384.1 L506.5,382.7 L507.5,381.1 L508.5,379.5 L509.5,377.8 L510.5,376.0 L511.5,374.2 L512.5,372.2 L513.5,370.2 L514.5,368.1 L515.5,365.9 L516.5,363.6 L517.5,361.3 L518.5,358.8 L519.5,356.3 L520.5,353.8 L521.5,351.2 L522.5,348.5 L523.5,345.8 L524.5,343.0 L525.5,340.2 L526.5,337.3 L527.5,334.3 L528.5,331.3 L529.5,328.3 L530.5,325.2 L531.5,322.1 L532.5,318.9 L533.5,315.7 L534.5,312.5 L535.5,309.3 L536.5,306.0 L537.5,302.7 L538.5,299.4 L539.5,296.1 L540.5,292.8 L541.5,289.5 L542.5,286.1 L543.5,282.8 L544.5,279.5 L545.5,276.3 L546.5,273.0 L547.5,269.9 L548.5,266.7 L549.5,263.6 L550.5,260.6 L551.5,257.6 L552.5,254.8 L553.5,251.9 L554.5,249.2 L555.5,246.5 L556.5,243.9 L557.5,241.4 L558.5,238.9 L559.5,236.4 L560.5,234.1 L561.5,231.8 L562.5,229.6 L563.5,227.4 L564.5,225.2 L565.5,223.2 L566.5,221.2 L567.5,219.3 L568.5,217.5 L569.5,215.8 L570.5,214.3 L571.5,212.9 L572.5,211.6 L573.5,210.6 L574.5,209.7 L575.5,209.0 L576.5,208.5 L577.5,208.3 L578.5,208.2 L579.5,208.5 L580.5,209.0 L581.5,209.7 L582.5,210.8 L583.5,212.1 L584.5,213.8 L585.5,215.8 L586.5,218.2 L587.5,220.9 L588.5,223.9 L589.5,227.3 L590.5,231.0 L591.5,235.1 L592.5,239.4 L593.5,244.1 L594.5,249.0 L595.5,254.2 L596.5,259.7 L597.5,265.4 L598.5,271.4 L599.5,277.6 L600.5,284.0 L601.5,290.6 L602.5,297.4 L603.5,304.5 L604.5,311.6 L605.5,319.0 L606.5,326.5 L607.5,334.2 L608.5,342.0 L609.5,349.9 L610.5,357.9 L611.5,366.0 L612.5,374.2 L613.5,382.4 L614.5,390.7 L615.5,399.0 L616.5,407.3 L617.5,415.5 L618.5,423.7 L619.5,431.7 L620.5,439.4 L621.5,446.8 L622.5,454.0 L623.5,461.0 L624.5,467.9 L625.5,474.7 L626.5,481.2 L627.5,487.6 L628.5,493.8 L629.5,499.8 L630.5,505.7 L631.5,511.3 L632.5,516.8 L633.5,522.0 L634.5,527.1 L635.5,531.9 L636.5,536.5 L637.5,540.9 L638.5,545.1 L639.5,549.2 L640.5,553.0 L641.5,556.7 L642.5,560.2 L643.5,563.5 L644.5,566.7 L645.5,569.7 L646.5,572.6 L647.5,575.4 L648.5,578.0 L649.5,580.5 L650.5,582.8 L651.5,585.1 L652.5,587.3 L653.5,589.3 L654.5,591.3 L655.5,593.2 L656.5,595.0 L657.5,596.7 L658.5,598.4 L659.5,600.0 L660.5,601.6 L661.5,603.1 L662.5,604.5 L663.5,605.9 L664.5,607.2 L665.5,608.5 L666.5,609.7 L667.5,610.8 L668.5,611.8 L669.5,612.7 L670.5,613.6 L671.5,614.5 L672.5,615.2 L673.5,615.9 L674.5,616.6 L675.5,617.2 L676.5,617.7 L677.5,618.2 L678.5,618.7 L679.5,619.2 L680.5,619.6 L681.5,620.0 L682.5,620.4 L683.5,620.8 L684.5,621.2 L685.5,621.6 L686.5,621.9 L687.5,622.3 L688.5,622.6 L689.5,622.9 L690.5,623.2 L691.5,623.5 L692.5,623.8 L693.5,624.0 L694.5,624.3 L695.5,624.5 L696.5,624.8 L697.5,625.0 L698.5,625.2 L699.5,625.4 L700.5,625.7 L701.5,625.8 L702.5,626.0 L703.5,626.2 L704.5,626.4 L705.5,626.6 L706.5,626.7 L707.5,626.9 L708.5,627.0 L709.5,627.2 L710.5,627.3 L711.5,627.4 L712.5,627.6 L713.5,627.7 L714.5,627.8 L715.5,627.9 L716.5,628.1 L717.5,628.2 L718.5,628.4 L719.5,628.5 L720.5,628.6 L721.5,628.8 L722.5,628.9 L723.5,629.0 L724.5,629.1 L725.5,629.2 L726.5,629.3 L727.5,629.4 L728.5,629.5 L729.5,629.6 L730.5,629.8 L731.5,629.9 L732.5,630.0 L733.5,630.1 L734.5,630.2 L735.5,630.3 L736.5,630.4 L737.5,630.5 L738.5,630.6 L739.5,630.7 L740.5,630.8 L741.5,630.9 L742.5,631.0 L743.5,631.1 L744.5,631.2 L745.5,631.3 L746.5,631.4 L747.5,631.4 L748.5,631.5 L749.5,631.6 L750.5,631.7 L751.5,631.8 L752.5,631.9 L753.5,631.9 L754.5,632.0 L755.5,632.1 L756.5,632.2 L757.5,632.2 L758.5,632.3 L759.5,632.4 L760.5,632.4 L761.5,632.5 L762.5,632.6 L763.5,632.6 L764.5,632.7 L765.5,632.8 L766.5,632.8 L767.5,632.9 L768.5,632.9 L769.5,633.0 L770.5,633.1 L771.5,633.1 L772.5,633.2 L773.5,633.2 L774.5,633.3 L775.5,633.3 L776.5,633.4 L777.5,633.4 L778.5,633.5 L779.5,633.5 L780.5,633.6 L781.5,633.6 L782.5,633.7 L783.5,633.7 L784.5,633.8 L785.5,633.8 L786.5,633.8 L787.5,633.9 L788.5,633.9 L789.5,634.0 L790.5,634.0 L791.5,634.0 L792.5,634.1 L793.5,634.1 L794.5,634.2 L795.5,634.2 L796.5,634.2 L797.5,634.3 L798.5,634.3 L799.5,634.3 L800.5,634.4 L801.5,634.4 L802.5,634.4 L803.5,634.5 L804.5,634.5 L805.5,634.5 L806.5,634.5 L807.5,634.6 L808.5,634.6 L809.5,634.6 L810.5,634.6 L811.5,634.7 L812.5,634.7 L813.5,634.7 L814.5,634.7 L815.5,634.8 L816.5,634.8 L817.5,634.8 L818.5,634.8 L819.5,634.8 L820.5,634.9 L821.5,634.9 L822.5,634.9 L823.5,634.9 L824.5,634.9 L825.5,634.9 L826.5,634.9 L827.5,635.0 L828.5,635.0 L829.5,635.0 L830.5,635.0 L831.5,635.0 L832.5,635.0 L833.5,635.0 L834.5,635.0 L835.5,635.0 L836.5,635.0 L837.5,635.1 L838.5,635.1 L839.5,635.1 L840.5,635.1 L841.5,635.1 L842.5,635.1 L843.5,635.1 L844.5,635.1 L845.5,635.1 L846.5,635.1 L847.5,635.1 L848.5,635.1 L849.5,635.1 L850.5,635.1 L851.5,635.2 L852.5,635.2 L853.5,635.2 L854.5,635.2 L855.5,635.2 L856.5,635.2 L857.5,635.2 L858.5,635.2 L859.5,635.2 L860.5,635.2 L861.5,635.2 L862.5,635.3 L863.5,635.3 L864.5,635.3 L865.5,635.3 L866.5,635.3 L867.5,635.3 L868.5,635.3 L869.5,635.3 L870.5,635.4 L871.8,635.4"/>
<path class="cv" stroke="#000080" d="M110.5,621.4 L111.5,621.2 L112.5,621.0 L113.5,620.9 L114.5,620.7 L115.5,620.5 L116.5,620.3 L117.5,620.2 L118.5,620.0 L119.5,619.8 L120.5,619.6 L121.5,619.5 L122.5,619.3 L123.5,619.1 L124.5,619.0 L125.5,618.8 L126.5,618.6 L127.5,618.5 L128.5,618.3 L129.5,618.1 L130.5,618.0 L131.5,617.8 L132.5,617.7 L133.5,617.5 L134.5,617.4 L135.5,617.2 L136.5,617.1 L137.5,616.9 L138.5,616.8 L139.5,616.6 L140.5,616.5 L141.5,616.3 L142.5,616.2 L143.5,616.1 L144.5,615.9 L145.5,615.8 L146.5,615.7 L147.5,615.5 L148.5,615.4 L149.5,615.3 L150.5,615.1 L151.5,615.0 L152.5,614.9 L153.5,614.8 L154.5,614.7 L155.5,614.5 L156.5,614.4 L157.5,614.3 L158.5,614.2 L159.5,614.1 L160.5,614.0 L161.5,613.9 L162.5,613.8 L163.5,613.7 L164.5,613.6 L165.5,613.5 L166.5,613.4 L167.5,613.3 L168.5,613.2 L169.5,613.1 L170.5,613.0 L171.5,612.9 L172.5,612.8 L173.5,612.7 L174.5,612.6 L175.5,612.5 L176.5,612.4 L177.5,612.4 L178.5,612.3 L179.5,612.2 L180.5,612.1 L181.5,612.0 L182.5,611.9 L183.5,611.8 L184.5,611.7 L185.5,611.6 L186.5,611.5 L187.5,611.5 L188.5,611.4 L189.5,611.3 L190.5,611.2 L191.5,611.1 L192.5,611.0 L193.5,611.0 L194.5,610.9 L195.5,610.8 L196.5,610.8 L197.5,610.7 L198.5,610.6 L199.5,610.6 L200.5,610.5 L201.5,610.5 L202.5,610.4 L203.5,610.3 L204.5,610.3 L205.5,610.3 L206.5,610.2 L207.5,610.2 L208.5,610.1 L209.5,610.1 L210.5,610.1 L211.5,610.1 L212.5,610.0 L213.5,610.0 L214.5,610.0 L215.5,610.0 L216.5,610.0 L217.5,610.0 L218.5,610.0 L219.5,610.0 L220.5,610.0 L221.5,610.0 L222.5,610.0 L223.5,610.0 L224.5,610.0 L225.5,609.9 L226.5,609.9 L227.5,609.9 L228.5,609.9 L229.5,609.9 L230.5,609.9 L231.5,609.9 L232.5,609.9 L233.5,609.9 L234.5,609.9 L235.5,609.9 L236.5,609.9 L237.5,609.9 L238.5,609.9 L239.5,609.9 L240.5,609.9 L241.5,609.9 L242.5,609.9 L243.5,609.9 L244.5,609.9 L245.5,609.9 L246.5,609.9 L247.5,609.9 L248.5,609.9 L249.5,609.9 L250.5,609.8 L251.5,609.8 L252.5,609.8 L253.5,609.7 L254.5,609.7 L255.5,609.6 L256.5,609.6 L257.5,609.5 L258.5,609.5 L259.5,609.4 L260.5,609.3 L261.5,609.2 L262.5,609.1 L263.5,609.0 L264.5,608.9 L265.5,608.8 L266.5,608.7 L267.5,608.6 L268.5,608.5 L269.5,608.4 L270.5,608.3 L271.5,608.2 L272.5,608.0 L273.5,607.9 L274.5,607.8 L275.5,607.7 L276.5,607.5 L277.5,607.4 L278.5,607.3 L279.5,607.2 L280.5,607.1 L281.5,606.9 L282.5,606.8 L283.5,606.7 L284.5,606.5 L285.5,606.4 L286.5,606.2 L287.5,606.1 L288.5,605.9 L289.5,605.7 L290.5,605.5 L291.5,605.3 L292.5,605.1 L293.5,604.9 L294.5,604.7 L295.5,604.5 L296.5,604.3 L297.5,604.1 L298.5,603.9 L299.5,603.6 L300.5,603.4 L301.5,603.1 L302.5,602.9 L303.5,602.6 L304.5,602.3 L305.5,602.0 L306.5,601.7 L307.5,601.4 L308.5,601.0 L309.5,600.7 L310.5,600.3 L311.5,600.0 L312.5,599.6 L313.5,599.2 L314.5,598.8 L315.5,598.4 L316.5,598.0 L317.5,597.6 L318.5,597.2 L319.5,596.7 L320.5,596.3 L321.5,595.8 L322.5,595.4 L323.5,594.9 L324.5,594.4 L325.5,594.0 L326.5,593.5 L327.5,593.0 L328.5,592.5 L329.5,591.9 L330.5,591.4 L331.5,590.9 L332.5,590.3 L333.5,589.7 L334.5,589.1 L335.5,588.6 L336.5,588.0 L337.5,587.3 L338.5,586.7 L339.5,586.1 L340.5,585.5 L341.5,584.9 L342.5,584.2 L343.5,583.6 L344.5,583.0 L345.5,582.4 L346.5,581.8 L347.5,581.2 L348.5,580.6 L349.5,580.0 L350.5,579.4 L351.5,578.8 L352.5,578.2 L353.5,577.5 L354.5,576.9 L355.5,576.3 L356.5,575.6 L357.5,575.0 L358.5,574.3 L359.5,573.7 L360.5,573.0 L361.5,572.3 L362.5,571.6 L363.5,570.9 L364.5,570.2 L365.5,569.5 L366.5,568.7 L367.5,567.9 L368.5,567.1 L369.5,566.4 L370.5,565.5 L371.5,564.7 L372.5,563.9 L373.5,563.0 L374.5,562.2 L375.5,561.2 L376.5,560.3 L377.5,559.3 L378.5,558.3 L379.5,557.3 L380.5,556.2 L381.5,555.2 L382.5,554.1 L383.5,553.1 L384.5,552.0 L385.5,550.8 L386.5,549.7 L387.5,548.5 L388.5,547.4 L389.5,546.1 L390.5,544.9 L391.5,543.7 L392.5,542.4 L393.5,541.1 L394.5,539.7 L395.5,538.4 L396.5,537.0 L397.5,535.6 L398.5,534.2 L399.5,532.8 L400.5,531.4 L401.5,529.9 L402.5,528.4 L403.5,526.9 L404.5,525.3 L405.5,523.7 L406.5,522.1 L407.5,520.4 L408.5,518.7 L409.5,517.0 L410.5,515.2 L411.5,513.4 L412.5,511.6 L413.5,509.7 L414.5,507.8 L415.5,505.9 L416.5,504.0 L417.5,502.1 L418.5,500.1 L419.5,498.1 L420.5,496.1 L421.5,494.0 L422.5,491.9 L423.5,489.7 L424.5,487.5 L425.5,485.4 L426.5,483.1 L427.5,480.9 L428.5,478.7 L429.5,476.4 L430.5,474.2 L431.5,471.9 L432.5,469.7 L433.5,467.4 L434.5,465.2 L435.5,463.0 L436.5,460.8 L437.5,458.6 L438.5,456.5 L439.5,454.4 L440.5,452.3 L441.5,450.2 L442.5,448.2 L443.5,446.2 L444.5,444.3 L445.5,442.4 L446.5,440.6 L447.5,438.8 L448.5,437.0 L449.5,435.1 L450.5,433.3 L451.5,431.5 L452.5,429.8 L453.5,428.1 L454.5,426.4 L455.5,424.9 L456.5,423.3 L457.5,421.9 L458.5,420.5 L459.5,419.1 L460.5,417.8 L461.5,416.6 L462.5,415.4 L463.5,414.3 L464.5,413.3 L465.5,412.3 L466.5,411.3 L467.5,410.4 L468.5,409.5 L469.5,408.8 L470.5,408.1 L471.5,407.4 L472.5,406.8 L473.5,406.2 L474.5,405.7 L475.5,405.2 L476.5,404.8 L477.5,404.3 L478.5,403.9 L479.5,403.5 L480.5,403.2 L481.5,402.8 L482.5,402.4 L483.5,402.0 L484.5,401.7 L485.5,401.3 L486.5,400.9 L487.5,400.5 L488.5,400.0 L489.5,399.5 L490.5,399.0 L491.5,398.4 L492.5,397.8 L493.5,397.1 L494.5,396.4 L495.5,395.6 L496.5,394.8 L497.5,393.9 L498.5,392.9 L499.5,391.9 L500.5,390.9 L501.5,389.8 L502.5,388.6 L503.5,387.4 L504.5,386.0 L505.5,384.7 L506.5,383.2 L507.5,381.7 L508.5,380.1 L509.5,378.5 L510.5,376.7 L511.5,374.9 L512.5,373.0 L513.5,371.0 L514.5,368.9 L515.5,366.8 L516.5,364.5 L517.5,362.2 L518.5,359.8 L519.5,357.3 L520.5,354.8 L521.5,352.2 L522.5,349.6 L523.5,346.9 L524.5,344.2 L525.5,341.4 L526.5,338.5 L527.5,335.6 L528.5,332.7 L529.5,329.7 L530.5,326.7 L531.5,323.6 L532.5,320.5 L533.5,317.3 L534.5,314.2 L535.5,311.0 L536.5,307.8 L537.5,304.5 L538.5,301.3 L539.5,298.0 L540.5,294.7 L541.5,291.5 L542.5,288.2 L543.5,284.9 L544.5,281.7 L545.5,278.5 L546.5,275.3 L547.5,272.2 L548.5,269.1 L549.5,266.1 L550.5,263.1 L551.5,260.2 L552.5,257.4 L553.5,254.6 L554.5,251.9 L555.5,249.3 L556.5,246.8 L557.5,244.3 L558.5,241.8 L559.5,239.5 L560.5,237.1 L561.5,234.9 L562.5,232.7 L563.5,230.5 L564.5,228.4 L565.5,226.3 L566.5,224.3 L567.5,222.5 L568.5,220.7 L569.5,219.0 L570.5,217.5 L571.5,216.1 L572.5,214.9 L573.5,213.8 L574.5,212.9 L575.5,212.2 L576.5,211.8 L577.5,211.5 L578.5,211.5 L579.5,211.7 L580.5,212.2 L581.5,213.0 L582.5,214.0 L583.5,215.4 L584.5,217.0 L585.5,219.0 L586.5,221.4 L587.5,224.0 L588.5,227.1 L589.5,230.4 L590.5,234.1 L591.5,238.1 L592.5,242.4 L593.5,247.0 L594.5,251.9 L595.5,257.1 L596.5,262.5 L597.5,268.2 L598.5,274.2 L599.5,280.3 L600.5,286.7 L601.5,293.3 L602.5,300.0 L603.5,307.0 L604.5,314.1 L605.5,321.4 L606.5,328.9 L607.5,336.5 L608.5,344.2 L609.5,352.1 L610.5,360.0 L611.5,368.1 L612.5,376.2 L613.5,384.4 L614.5,392.6 L615.5,400.8 L616.5,409.0 L617.5,417.2 L618.5,425.3 L619.5,433.3 L620.5,440.9 L621.5,448.2 L622.5,455.3 L623.5,462.3 L624.5,469.2 L625.5,475.8 L626.5,482.4 L627.5,488.7 L628.5,494.8 L629.5,500.8 L630.5,506.6 L631.5,512.2 L632.5,517.6 L633.5,522.8 L634.5,527.8 L635.5,532.6 L636.5,537.2 L637.5,541.6 L638.5,545.7 L639.5,549.7 L640.5,553.6 L641.5,557.2 L642.5,560.7 L643.5,564.0 L644.5,567.2 L645.5,570.2 L646.5,573.0 L647.5,575.8 L648.5,578.3 L649.5,580.8 L650.5,583.2 L651.5,585.4 L652.5,587.5 L653.5,589.6 L654.5,591.5 L655.5,593.4 L656.5,595.2 L657.5,596.9 L658.5,598.6 L659.5,600.2 L660.5,601.8 L661.5,603.3 L662.5,604.7 L663.5,606.1 L664.5,607.4 L665.5,608.7 L666.5,609.8 L667.5,610.9 L668.5,611.9 L669.5,612.9 L670.5,613.7 L671.5,614.6 L672.5,615.3 L673.5,616.0 L674.5,616.7 L675.5,617.2 L676.5,617.8 L677.5,618.3 L678.5,618.8 L679.5,619.2 L680.5,619.7 L681.5,620.1 L682.5,620.5 L683.5,620.9 L684.5,621.2 L685.5,621.6 L686.5,622.0 L687.5,622.3 L688.5,622.6 L689.5,623.0 L690.5,623.3 L691.5,623.6 L692.5,623.8 L693.5,624.1 L694.5,624.4 L695.5,624.6 L696.5,624.9 L697.5,625.1 L698.5,625.3 L699.5,625.6 L700.5,625.8 L701.5,626.0 L702.5,626.2 L703.5,626.4 L704.5,626.5 L705.5,626.7 L706.5,626.9 L707.5,627.0 L708.5,627.2 L709.5,627.4 L710.5,627.5 L711.5,627.6 L712.5,627.8 L713.5,627.9 L714.5,628.0 L715.5,628.2 L716.5,628.3 L717.5,628.5 L718.5,628.6 L719.5,628.8 L720.5,628.9 L721.5,629.1 L722.5,629.2 L723.5,629.3 L724.5,629.4 L725.5,629.6 L726.5,629.7 L727.5,629.8 L728.5,629.9 L729.5,630.0 L730.5,630.1 L731.5,630.2 L732.5,630.4 L733.5,630.5 L734.5,630.6 L735.5,630.7 L736.5,630.8 L737.5,630.9 L738.5,631.0 L739.5,631.1 L740.5,631.2 L741.5,631.3 L742.5,631.4 L743.5,631.5 L744.5,631.5 L745.5,631.6 L746.5,631.7 L747.5,631.8 L748.5,631.9 L749.5,632.0 L750.5,632.0 L751.5,632.1 L752.5,632.2 L753.5,632.3 L754.5,632.3 L755.5,632.4 L756.5,632.5 L757.5,632.6 L758.5,632.6 L759.5,632.7 L760.5,632.8 L761.5,632.8 L762.5,632.9 L763.5,633.0 L764.5,633.0 L765.5,633.1 L766.5,633.1 L767.5,633.2 L768.5,633.3 L769.5,633.3 L770.5,633.4 L771.5,633.4 L772.5,633.5 L773.5,633.5 L774.5,633.6 L775.5,633.6 L776.5,633.7 L777.5,633.7 L778.5,633.8 L779.5,633.8 L780.5,633.9 L781.5,633.9 L782.5,634.0 L783.5,634.0 L784.5,634.0 L785.5,634.1 L786.5,634.1 L787.5,634.2 L788.5,634.2 L789.5,634.3 L790.5,634.3 L791.5,634.3 L792.5,634.4 L793.5,634.4 L794.5,634.4 L795.5,634.5 L796.5,634.5 L797.5,634.5 L798.5,634.6 L799.5,634.6 L800.5,634.6 L801.5,634.7 L802.5,634.7 L803.5,634.7 L804.5,634.7 L805.5,634.8 L806.5,634.8 L807.5,634.8 L808.5,634.8 L809.5,634.9 L810.5,634.9 L811.5,634.9 L812.5,634.9 L813.5,635.0 L814.5,635.0 L815.5,635.0 L816.5,635.0 L817.5,635.0 L818.5,635.1 L819.5,635.1 L820.5,635.1 L821.5,635.1 L822.5,635.1 L823.5,635.1 L824.5,635.1 L825.5,635.2 L826.5,635.2 L827.5,635.2 L828.5,635.2 L829.5,635.2 L830.5,635.2 L831.5,635.2 L832.5,635.2 L833.5,635.2 L834.5,635.2 L835.5,635.2 L836.5,635.3 L837.5,635.3 L838.5,635.3 L839.5,635.3 L840.5,635.3 L841.5,635.3 L842.5,635.3 L843.5,635.3 L844.5,635.3 L845.5,635.3 L846.5,635.3 L847.5,635.3 L848.5,635.3 L849.5,635.3 L850.5,635.3 L851.5,635.3 L852.5,635.4 L853.5,635.4 L854.5,635.4 L855.5,635.4 L856.5,635.4 L857.5,635.4 L858.5,635.4 L859.5,635.4 L860.5,635.4 L861.5,635.4 L862.5,635.4 L863.5,635.4 L864.5,635.5 L865.5,635.5 L866.5,635.5 L867.5,635.5 L868.5,635.5 L869.5,635.5 L870.5,635.5 L871.8,635.6"/>
<path class="cv" stroke="#8000ff" d="M110.5,628.2 L111.5,628.0 L112.5,627.8 L113.5,627.6 L114.5,627.4 L115.5,627.3 L116.5,627.1 L117.5,626.9 L118.5,626.7 L119.5,626.5 L120.5,626.4 L121.5,626.2 L122.5,626.0 L123.5,625.8 L124.5,625.7 L125.5,625.5 L126.5,625.3 L127.5,625.1 L128.5,625.0 L129.5,624.8 L130.5,624.6 L131.5,624.5 L132.5,624.3 L133.5,624.1 L134.5,624.0 L135.5,623.8 L136.5,623.7 L137.5,623.5 L138.5,623.4 L139.5,623.2 L140.5,623.1 L141.5,622.9 L142.5,622.8 L143.5,622.6 L144.5,622.5 L145.5,622.3 L146.5,622.2 L147.5,622.1 L148.5,621.9 L149.5,621.8 L150.5,621.7 L151.5,621.5 L152.5,621.4 L153.5,621.3 L154.5,621.1 L155.5,621.0 L156.5,620.9 L157.5,620.8 L158.5,620.7 L159.5,620.5 L160.5,620.4 L161.5,620.3 L162.5,620.2 L163.5,620.1 L164.5,620.0 L165.5,619.9 L166.5,619.8 L167.5,619.7 L168.5,619.6 L169.5,619.5 L170.5,619.4 L171.5,619.3 L172.5,619.2 L173.5,619.1 L174.5,619.0 L175.5,618.9 L176.5,618.8 L177.5,618.7 L178.5,618.6 L179.5,618.5 L180.5,618.4 L181.5,618.3 L182.5,618.2 L183.5,618.1 L184.5,618.0 L185.5,617.9 L186.5,617.8 L187.5,617.7 L188.5,617.6 L189.5,617.5 L190.5,617.4 L191.5,617.3 L192.5,617.2 L193.5,617.2 L194.5,617.1 L195.5,617.0 L196.5,616.9 L197.5,616.9 L198.5,616.8 L199.5,616.7 L200.5,616.6 L201.5,616.6 L202.5,616.5 L203.5,616.5 L204.5,616.4 L205.5,616.4 L206.5,616.3 L207.5,616.3 L208.5,616.2 L209.5,616.2 L210.5,616.1 L211.5,616.1 L212.5,616.1 L213.5,616.1 L214.5,616.0 L215.5,616.0 L216.5,616.0 L217.5,616.0 L218.5,616.0 L219.5,616.0 L220.5,616.0 L221.5,615.9 L222.5,615.9 L223.5,615.9 L224.5,615.9 L225.5,615.9 L226.5,615.9 L227.5,615.9 L228.5,615.9 L229.5,615.9 L230.5,615.9 L231.5,615.9 L232.5,615.8 L233.5,615.8 L234.5,615.8 L235.5,615.8 L236.5,615.8 L237.5,615.8 L238.5,615.8 L239.5,615.8 L240.5,615.8 L241.5,615.8 L242.5,615.8 L243.5,615.7 L244.5,615.7 L245.5,615.7 L246.5,615.7 L247.5,615.7 L248.5,615.7 L249.5,615.7 L250.5,615.6 L251.5,615.6 L252.5,615.5 L253.5,615.5 L254.5,615.4 L255.5,615.4 L256.5,615.3 L257.5,615.2 L258.5,615.1 L259.5,615.0 L260.5,614.9 L261.5,614.8 L262.5,614.7 L263.5,614.6 L264.5,614.5 L265.5,614.4 L266.5,614.3 L267.5,614.2 L268.5,614.0 L269.5,613.9 L270.5,613.8 L271.5,613.6 L272.5,613.5 L273.5,613.4 L274.5,613.2 L275.5,613.1 L276.5,613.0 L277.5,612.8 L278.5,612.7 L279.5,612.6 L280.5,612.4 L281.5,612.3 L282.5,612.1 L283.5,612.0 L284.5,611.8 L285.5,611.7 L286.5,611.5 L287.5,611.3 L288.5,611.1 L289.5,611.0 L290.5,610.8 L291.5,610.6 L292.5,610.3 L293.5,610.1 L294.5,609.9 L295.5,609.7 L296.5,609.5 L297.5,609.2 L298.5,609.0 L299.5,608.8 L300.5,608.5 L301.5,608.2 L302.5,608.0 L303.5,607.7 L304.5,607.4 L305.5,607.1 L306.5,606.8 L307.5,606.5 L308.5,606.2 L309.5,605.9 L310.5,605.5 L311.5,605.2 L312.5,604.9 L313.5,604.6 L314.5,604.3 L315.5,604.0 L316.5,603.6 L317.5,603.3 L318.5,603.0 L319.5,602.6 L320.5,602.3 L321.5,602.0 L322.5,601.6 L323.5,601.3 L324.5,600.9 L325.5,600.5 L326.5,600.2 L327.5,599.8 L328.5,599.4 L329.5,599.0 L330.5,598.5 L331.5,598.0 L332.5,597.4 L333.5,596.8 L334.5,596.2 L335.5,595.5 L336.5,594.9 L337.5,594.2 L338.5,593.5 L339.5,592.8 L340.5,592.1 L341.5,591.3 L342.5,590.6 L343.5,589.9 L344.5,589.1 L345.5,588.4 L346.5,587.6 L347.5,586.9 L348.5,586.1 L349.5,585.4 L350.5,584.6 L351.5,583.8 L352.5,583.1 L353.5,582.3 L354.5,581.5 L355.5,580.7 L356.5,579.9 L357.5,579.1 L358.5,578.3 L359.5,577.5 L360.5,576.7 L361.5,575.8 L362.5,575.0 L363.5,574.1 L364.5,573.2 L365.5,572.3 L366.5,571.4 L367.5,570.5 L368.5,569.6 L369.5,568.6 L370.5,567.7 L371.5,566.7 L372.5,565.7 L373.5,564.7 L374.5,563.7 L375.5,562.7 L376.5,561.7 L377.5,560.8 L378.5,559.8 L379.5,558.8 L380.5,557.8 L381.5,556.8 L382.5,555.8 L383.5,554.7 L384.5,553.6 L385.5,552.6 L386.5,551.4 L387.5,550.3 L388.5,549.2 L389.5,548.0 L390.5,546.8 L391.5,545.5 L392.5,544.3 L393.5,543.0 L394.5,541.7 L395.5,540.4 L396.5,539.0 L397.5,537.7 L398.5,536.3 L399.5,535.0 L400.5,533.6 L401.5,532.2 L402.5,530.7 L403.5,529.2 L404.5,527.6 L405.5,526.0 L406.5,524.4 L407.5,522.8 L408.5,521.2 L409.5,519.5 L410.5,517.7 L411.5,516.0 L412.5,514.2 L413.5,512.4 L414.5,510.5 L415.5,508.7 L416.5,506.8 L417.5,504.9 L418.5,503.0 L419.5,501.0 L420.5,499.0 L421.5,496.9 L422.5,494.9 L423.5,492.7 L424.5,490.6 L425.5,488.5 L426.5,486.3 L427.5,484.1 L428.5,481.9 L429.5,479.7 L430.5,477.5 L431.5,475.3 L432.5,473.1 L433.5,470.9 L434.5,468.7 L435.5,466.6 L436.5,464.4 L437.5,462.3 L438.5,460.2 L439.5,458.1 L440.5,456.1 L441.5,454.0 L442.5,452.1 L443.5,450.1 L444.5,448.3 L445.5,446.4 L446.5,444.6 L447.5,442.9 L448.5,441.1 L449.5,439.2 L450.5,437.4 L451.5,435.7 L452.5,434.0 L453.5,432.3 L454.5,430.7 L455.5,429.2 L456.5,427.7 L457.5,426.3 L458.5,424.9 L459.5,423.6 L460.5,422.3 L461.5,421.1 L462.5,419.9 L463.5,418.9 L464.5,417.8 L465.5,416.8 L466.5,415.9 L467.5,415.0 L468.5,414.2 L469.5,413.4 L470.5,412.7 L471.5,412.1 L472.5,411.5 L473.5,410.9 L474.5,410.4 L475.5,409.9 L476.5,409.5 L477.5,409.1 L478.5,408.7 L479.5,408.3 L480.5,407.9 L481.5,407.6 L482.5,407.2 L483.5,406.8 L484.5,406.5 L485.5,406.1 L486.5,405.7 L487.5,405.3 L488.5,404.8 L489.5,404.4 L490.5,403.8 L491.5,403.3 L492.5,402.7 L493.5,402.0 L494.5,401.3 L495.5,400.5 L496.5,399.7 L497.5,398.8 L498.5,397.9 L499.5,396.9 L500.5,395.9 L501.5,394.8 L502.5,393.6 L503.5,392.4 L504.5,391.2 L505.5,389.8 L506.5,388.4 L507.5,386.9 L508.5,385.4 L509.5,383.7 L510.5,382.0 L511.5,380.2 L512.5,378.4 L513.5,376.4 L514.5,374.4 L515.5,372.3 L516.5,370.1 L517.5,367.8 L518.5,365.4 L519.5,363.0 L520.5,360.5 L521.5,358.0 L522.5,355.5 L523.5,352.8 L524.5,350.1 L525.5,347.4 L526.5,344.6 L527.5,341.8 L528.5,338.9 L529.5,335.9 L530.5,333.0 L531.5,329.9 L532.5,326.9 L533.5,323.8 L534.5,320.7 L535.5,317.6 L536.5,314.4 L537.5,311.3 L538.5,308.1 L539.5,304.9 L540.5,301.7 L541.5,298.5 L542.5,295.3 L543.5,292.1 L544.5,288.9 L545.5,285.8 L546.5,282.6 L547.5,279.6 L548.5,276.6 L549.5,273.6 L550.5,270.7 L551.5,267.8 L552.5,265.1 L553.5,262.4 L554.5,259.7 L555.5,257.2 L556.5,254.7 L557.5,252.2 L558.5,249.8 L559.5,247.5 L560.5,245.2 L561.5,243.0 L562.5,240.8 L563.5,238.7 L564.5,236.6 L565.5,234.6 L566.5,232.7 L567.5,230.8 L568.5,229.1 L569.5,227.5 L570.5,226.0 L571.5,224.6 L572.5,223.4 L573.5,222.4 L574.5,221.5 L575.5,220.8 L576.5,220.4 L577.5,220.1 L578.5,220.1 L579.5,220.3 L580.5,220.8 L581.5,221.6 L582.5,222.6 L583.5,223.9 L584.5,225.5 L585.5,227.5 L586.5,229.8 L587.5,232.4 L588.5,235.3 L589.5,238.6 L590.5,242.3 L591.5,246.2 L592.5,250.4 L593.5,254.9 L594.5,259.7 L595.5,264.8 L596.5,270.1 L597.5,275.7 L598.5,281.5 L599.5,287.5 L600.5,293.8 L601.5,300.2 L602.5,306.9 L603.5,313.7 L604.5,320.7 L605.5,327.8 L606.5,335.1 L607.5,342.6 L608.5,350.2 L609.5,357.8 L610.5,365.6 L611.5,373.5 L612.5,381.5 L613.5,389.5 L614.5,397.6 L615.5,405.6 L616.5,413.7 L617.5,421.7 L618.5,429.6 L619.5,437.5 L620.5,444.9 L621.5,452.0 L622.5,459.0 L623.5,465.8 L624.5,472.5 L625.5,479.0 L626.5,485.3 L627.5,491.5 L628.5,497.5 L629.5,503.4 L630.5,509.0 L631.5,514.5 L632.5,519.8 L633.5,524.9 L634.5,529.8 L635.5,534.5 L636.5,538.9 L637.5,543.2 L638.5,547.3 L639.5,551.3 L640.5,555.0 L641.5,558.6 L642.5,562.0 L643.5,565.2 L644.5,568.3 L645.5,571.3 L646.5,574.1 L647.5,576.7 L648.5,579.3 L649.5,581.7 L650.5,584.0 L651.5,586.2 L652.5,588.3 L653.5,590.3 L654.5,592.2 L655.5,594.1 L656.5,595.8 L657.5,597.5 L658.5,599.2 L659.5,600.7 L660.5,602.3 L661.5,603.7 L662.5,605.2 L663.5,606.5 L664.5,607.8 L665.5,609.1 L666.5,610.2 L667.5,611.3 L668.5,612.3 L669.5,613.2 L670.5,614.0 L671.5,614.8 L672.5,615.6 L673.5,616.3 L674.5,616.9 L675.5,617.5 L676.5,618.0 L677.5,618.5 L678.5,619.0 L679.5,619.4 L680.5,619.9 L681.5,620.3 L682.5,620.6 L683.5,621.0 L684.5,621.4 L685.5,621.7 L686.5,622.1 L687.5,622.4 L688.5,622.8 L689.5,623.1 L690.5,623.4 L691.5,623.7 L692.5,624.0 L693.5,624.2 L694.5,624.5 L695.5,624.8 L696.5,625.0 L697.5,625.2 L698.5,625.5 L699.5,625.7 L700.5,625.9 L701.5,626.1 L702.5,626.3 L703.5,626.5 L704.5,626.7 L705.5,626.9 L706.5,627.1 L707.5,627.2 L708.5,627.4 L709.5,627.6 L710.5,627.7 L711.5,627.8 L712.5,628.0 L713.5,628.1 L714.5,628.2 L715.5,628.4 L716.5,628.6 L717.5,628.7 L718.5,628.9 L719.5,629.1 L720.5,629.2 L721.5,629.4 L722.5,629.5 L723.5,629.6 L724.5,629.8 L725.5,629.9 L726.5,630.0 L727.5,630.1 L728.5,630.3 L729.5,630.4 L730.5,630.5 L731.5,630.6 L732.5,630.7 L733.5,630.8 L734.5,630.9 L735.5,631.0 L736.5,631.1 L737.5,631.2 L738.5,631.3 L739.5,631.4 L740.5,631.5 L741.5,631.6 L742.5,631.7 L743.5,631.8 L744.5,631.9 L745.5,632.0 L746.5,632.1 L747.5,632.1 L748.5,632.2 L749.5,632.3 L750.5,632.4 L751.5,632.5 L752.5,632.5 L753.5,632.6 L754.5,632.7 L755.5,632.8 L756.5,632.8 L757.5,632.9 L758.5,633.0 L759.5,633.0 L760.5,633.1 L761.5,633.2 L762.5,633.2 L763.5,633.3 L764.5,633.3 L765.5,633.4 L766.5,633.5 L767.5,633.5 L768.5,633.6 L769.5,633.6 L770.5,633.7 L771.5,633.7 L772.5,633.8 L773.5,633.8 L774.5,633.9 L775.5,633.9 L776.5,634.0 L777.5,634.0 L778.5,634.1 L779.5,634.1 L780.5,634.2 L781.5,634.2 L782.5,634.3 L783.5,634.3 L784.5,634.3 L785.5,634.4 L786.5,634.4 L787.5,634.5 L788.5,634.5 L789.5,634.5 L790.5,634.6 L791.5,634.6 L792.5,634.6 L793.5,634.7 L794.5,634.7 L795.5,634.7 L796.5,634.8 L797.5,634.8 L798.5,634.8 L799.5,634.9 L800.5,634.9 L801.5,634.9 L802.5,635.0 L803.5,635.0 L804.5,635.0 L805.5,635.0 L806.5,635.1 L807.5,635.1 L808.5,635.1 L809.5,635.1 L810.5,635.1 L811.5,635.2 L812.5,635.2 L813.5,635.2 L814.5,635.2 L815.5,635.2 L816.5,635.3 L817.5,635.3 L818.5,635.3 L819.5,635.3 L820.5,635.3 L821.5,635.3 L822.5,635.4 L823.5,635.4 L824.5,635.4 L825.5,635.4 L826.5,635.4 L827.5,635.4 L828.5,635.4 L829.5,635.4 L830.5,635.4 L831.5,635.4 L832.5,635.4 L833.5,635.5 L834.5,635.5 L835.5,635.5 L836.5,635.5 L837.5,635.5 L838.5,635.5 L839.5,635.5 L840.5,635.5 L841.5,635.5 L842.5,635.5 L843.5,635.5 L844.5,635.5 L845.5,635.5 L846.5,635.5 L847.5,635.5 L848.5,635.5 L849.5,635.5 L850.5,635.5 L851.5,635.5 L852.5,635.5 L853.5,635.5 L854.5,635.5 L855.5,635.6 L856.5,635.6 L857.5,635.6 L858.5,635.6 L859.5,635.6 L860.5,635.6 L861.5,635.6 L862.5,635.6 L863.5,635.6 L864.5,635.6 L865.5,635.6 L866.5,635.7 L867.5,635.7 L868.5,635.7 L869.5,635.7 L870.5,635.7 L871.8,635.7"/>
</g>
<g id="axes-a">
<rect class="ax" x="110.5" y="6.9" width="761.3" height="650.7" stroke-linejoin="round"/>
<path class="ax" d="M110.5,658.6v12.2M164.9,658.6v5.5M219.3,658.6v12.2M273.6,658.6v5.5M328.0,658.6v12.2M382.4,658.6v5.5M436.8,658.6v12.2M491.1,658.6v5.5M545.5,658.6v12.2M599.9,658.6v5.5M654.3,658.6v12.2M708.7,658.6v5.5M763.0,658.6v12.2M817.4,658.6v5.5M871.8,658.6v12.2M109.5,641.2h-11.399999999999999M109.5,598.9h-4.7M109.5,556.6h-11.399999999999999M109.5,514.3h-4.7M109.5,472.0h-11.399999999999999M109.5,429.7h-4.7M109.5,387.4h-11.399999999999999M109.5,345.1h-4.7M109.5,302.8h-11.399999999999999M109.5,260.5h-4.7M109.5,218.2h-11.399999999999999M109.5,175.9h-4.7M109.5,133.6h-11.399999999999999M109.5,91.3h-4.7M109.5,49.0h-11.399999999999999M109.5,6.7h-4.7"/>
</g>
<g id="ticklabels-a">
<text transform="translate(110.5,707.0) scale(0.909,1)" font-size="35.6" text-anchor="middle">450</text>
<text transform="translate(219.3,707.0) scale(0.909,1)" font-size="35.6" text-anchor="middle">500</text>
<text transform="translate(328.0,707.0) scale(0.909,1)" font-size="35.6" text-anchor="middle">550</text>
<text transform="translate(436.8,707.0) scale(0.909,1)" font-size="35.6" text-anchor="middle">600</text>
<text transform="translate(545.5,707.0) scale(0.909,1)" font-size="35.6" text-anchor="middle">650</text>
<text transform="translate(654.3,707.0) scale(0.909,1)" font-size="35.6" text-anchor="middle">700</text>
<text transform="translate(763.0,707.0) scale(0.909,1)" font-size="35.6" text-anchor="middle">750</text>
<text transform="translate(871.8,707.0) scale(0.909,1)" font-size="35.6" text-anchor="middle">800</text>
<text transform="translate(89.8,651.9) scale(0.909,1)" font-size="35.6" text-anchor="end">0.0</text>
<text transform="translate(89.8,567.3) scale(0.909,1)" font-size="35.6" text-anchor="end">0.1</text>
<text transform="translate(89.8,482.7) scale(0.909,1)" font-size="35.6" text-anchor="end">0.2</text>
<text transform="translate(89.8,398.1) scale(0.909,1)" font-size="35.6" text-anchor="end">0.3</text>
<text transform="translate(89.8,313.5) scale(0.909,1)" font-size="35.6" text-anchor="end">0.4</text>
<text transform="translate(89.8,228.9) scale(0.909,1)" font-size="35.6" text-anchor="end">0.5</text>
<text transform="translate(89.8,144.3) scale(0.909,1)" font-size="35.6" text-anchor="end">0.6</text>
<text transform="translate(89.8,59.7) scale(0.909,1)" font-size="35.6" text-anchor="end">0.7</text>
</g>
<text transform="translate(491.5,752.2) scale(0.951,1)" font-size="42.5" text-anchor="middle">Wavelength (nm)</text>
<text transform="translate(31.6,315.8) rotate(-90) scale(1,0.93)" font-size="43" text-anchor="middle">Absorbance (a.u.)</text>
<text transform="translate(370.9,111.3) scale(0.89,1)" font-size="48" text-anchor="middle">a</text>
<g id="legend-a">
<line x1="659.6" y1="47.9" x2="730.3" y2="47.9" stroke="#000000" stroke-width="3.2" stroke-linecap="round"/>
<text transform="translate(738.3,60.1) scale(0.919,1)" font-size="34.8" text-anchor="start">Initial</text>
<line x1="659.6" y1="90.2" x2="730.3" y2="90.2" stroke="#ff0000" stroke-width="3.2" stroke-linecap="round"/>
<text transform="translate(738.3,102.5) scale(0.919,1)" font-size="34.8" text-anchor="start">30 min</text>
<line x1="659.6" y1="132.6" x2="730.3" y2="132.6" stroke="#0000ff" stroke-width="3.2" stroke-linecap="round"/>
<text transform="translate(738.3,144.8) scale(0.919,1)" font-size="34.8" text-anchor="start">60 min</text>
<line x1="659.6" y1="175.0" x2="730.3" y2="175.0" stroke="#ff00ff" stroke-width="3.2" stroke-linecap="round"/>
<text transform="translate(738.3,187.2) scale(0.919,1)" font-size="34.8" text-anchor="start">90 min</text>
<line x1="659.6" y1="217.3" x2="730.3" y2="217.3" stroke="#008000" stroke-width="3.2" stroke-linecap="round"/>
<text transform="translate(738.3,229.5) scale(0.919,1)" font-size="34.8" text-anchor="start">120 min</text>
<line x1="659.6" y1="259.6" x2="730.3" y2="259.6" stroke="#000080" stroke-width="3.2" stroke-linecap="round"/>
<text transform="translate(738.3,271.8) scale(0.919,1)" font-size="34.8" text-anchor="start">150 min</text>
<line x1="659.6" y1="302.0" x2="730.3" y2="302.0" stroke="#8000ff" stroke-width="3.2" stroke-linecap="round"/>
<text transform="translate(738.3,314.2) scale(0.919,1)" font-size="34.8" text-anchor="start">180 min</text>
</g>
<g id="axes-b">
<rect class="ax" x="1031.9" y="9.0" width="760.8" height="650.7" stroke-linejoin="round"/>
<path class="ax" d="M1031.8,660.7v5.5M1068.0,660.7v12.2M1104.2,660.7v5.5M1140.5,660.7v12.2M1176.7,660.7v5.5M1212.9,660.7v12.2M1249.2,660.7v5.5M1285.4,660.7v12.2M1321.6,660.7v5.5M1357.9,660.7v12.2M1394.1,660.7v5.5M1430.3,660.7v12.2M1466.6,660.7v5.5M1502.8,660.7v12.2M1539.1,660.7v5.5M1575.3,660.7v12.2M1611.5,660.7v5.5M1647.8,660.7v12.2M1684.0,660.7v5.5M1720.2,660.7v12.2M1756.5,660.7v5.5M1792.7,660.7v12.2M1030.9,659.8h-4.7M1030.9,613.3h-11.399999999999999M1030.9,566.8h-4.7M1030.9,520.3h-11.399999999999999M1030.9,473.7h-4.7M1030.9,427.2h-11.399999999999999M1030.9,380.7h-4.7M1030.9,334.2h-11.399999999999999M1030.9,287.7h-4.7M1030.9,241.2h-11.399999999999999M1030.9,194.6h-4.7M1030.9,148.1h-11.399999999999999M1030.9,101.6h-4.7M1030.9,55.1h-11.399999999999999M1030.9,8.6h-4.7"/>
</g>
<g id="series-b">
<line x1="1071.1" y1="65.5" x2="1173.6" y2="411.3" stroke="#000" stroke-width="2.9" stroke-linecap="round"/>
<line x1="1187.1" y1="424.8" x2="1275.1" y2="451.1" stroke="#000" stroke-width="2.9" stroke-linecap="round"/>
<line x1="1295.1" y1="458.9" x2="1384.4" y2="502.5" stroke="#000" stroke-width="2.9" stroke-linecap="round"/>
<line x1="1403.9" y1="511.9" x2="1493.1" y2="554.7" stroke="#000" stroke-width="2.9" stroke-linecap="round"/>
<line x1="1513.3" y1="561.9" x2="1601.0" y2="583.7" stroke="#000" stroke-width="2.9" stroke-linecap="round"/>
<line x1="1622.0" y1="588.9" x2="1709.7" y2="610.7" stroke="#000" stroke-width="2.9" stroke-linecap="round"/>
<ellipse cx="1068.0" cy="55.1" rx="7.6" ry="7.95" fill="#000"/>
<ellipse cx="1176.7" cy="421.7" rx="7.6" ry="7.95" fill="#000"/>
<ellipse cx="1285.4" cy="454.2" rx="7.6" ry="7.95" fill="#000"/>
<ellipse cx="1394.1" cy="507.2" rx="7.6" ry="7.95" fill="#000"/>
<ellipse cx="1502.8" cy="559.3" rx="7.6" ry="7.95" fill="#000"/>
<ellipse cx="1611.5" cy="586.3" rx="7.6" ry="7.95" fill="#000"/>
<ellipse cx="1720.2" cy="613.3" rx="7.6" ry="7.95" fill="#000"/>
</g>
<g id="ticklabels-b">
<text transform="translate(1068.0,709.0) scale(0.909,1)" font-size="35.6" text-anchor="middle">0</text>
<text transform="translate(1140.5,709.0) scale(0.909,1)" font-size="35.6" text-anchor="middle">20</text>
<text transform="translate(1212.9,709.0) scale(0.909,1)" font-size="35.6" text-anchor="middle">40</text>
<text transform="translate(1285.4,709.0) scale(0.909,1)" font-size="35.6" text-anchor="middle">60</text>
<text transform="translate(1357.9,709.0) scale(0.909,1)" font-size="35.6" text-anchor="middle">80</text>
<text transform="translate(1430.3,709.0) scale(0.909,1)" font-size="35.6" text-anchor="middle">100</text>
<text transform="translate(1502.8,709.0) scale(0.909,1)" font-size="35.6" text-anchor="middle">120</text>
<text transform="translate(1575.3,709.0) scale(0.909,1)" font-size="35.6" text-anchor="middle">140</text>
<text transform="translate(1647.8,709.0) scale(0.909,1)" font-size="35.6" text-anchor="middle">160</text>
<text transform="translate(1720.2,709.0) scale(0.909,1)" font-size="35.6" text-anchor="middle">180</text>
<text transform="translate(1792.7,709.0) scale(0.909,1)" font-size="35.6" text-anchor="middle">200</text>
<text transform="translate(1011.4,624.4) scale(0.902,1)" font-size="35.6" text-anchor="end">0.70</text>
<text transform="translate(1011.4,531.4) scale(0.902,1)" font-size="35.6" text-anchor="end">0.75</text>
<text transform="translate(1011.4,438.3) scale(0.902,1)" font-size="35.6" text-anchor="end">0.80</text>
<text transform="translate(1011.4,345.3) scale(0.902,1)" font-size="35.6" text-anchor="end">0.85</text>
<text transform="translate(1011.4,252.3) scale(0.902,1)" font-size="35.6" text-anchor="end">0.90</text>
<text transform="translate(1011.4,159.2) scale(0.902,1)" font-size="35.6" text-anchor="end">0.95</text>
<text transform="translate(1011.4,66.2) scale(0.902,1)" font-size="35.6" text-anchor="end">1.00</text>
</g>
<text transform="translate(1412.2,749.0) scale(0.911,1)" font-size="44.5" text-anchor="middle">Time (min)</text>
<text transform="translate(930.8,377.2) rotate(-90)" font-size="43.7" text-anchor="start">C/C<tspan font-size="27" dy="13.5" dx="-2">o</tspan></text>
<text transform="translate(1268.7,121.2) scale(0.937,1)" font-size="46" text-anchor="middle">b</text>
</g>
</svg></body></html>
